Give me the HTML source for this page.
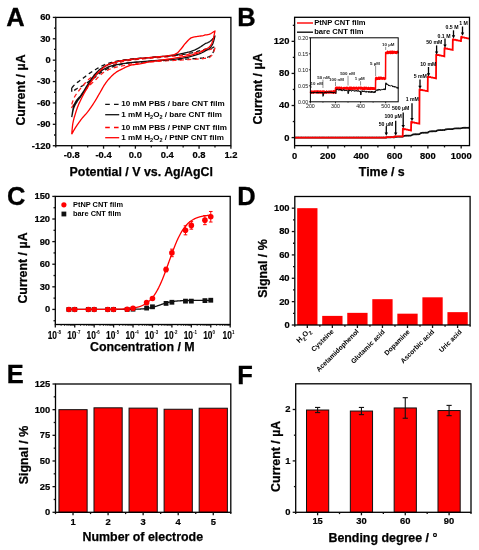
<!DOCTYPE html>
<html><head><meta charset="utf-8"><style>
html,body{margin:0;padding:0;background:#fff;}
svg{display:block;font-family:"Liberation Sans", sans-serif;will-change:transform;}
</style></head><body>
<svg width="479" height="550" viewBox="0 0 479 550">
<rect width="479" height="550" fill="#fff"/>
<text x="6.2" y="25.6" font-size="25.5" text-anchor="start" font-weight="bold" fill="#000" stroke="#000" stroke-width="0.3">A</text>
<polyline points="71.72,87.97 71.99,87.66 72.34,87.26 72.75,86.77 73.22,86.23 73.72,85.67 74.25,85.10 74.78,84.56 75.30,84.06 75.83,83.60 76.38,83.16 76.96,82.72 77.54,82.28 78.14,81.85 78.74,81.42 79.33,80.99 79.92,80.56 80.49,80.13 81.07,79.70 81.64,79.28 82.22,78.85 82.80,78.43 83.37,78.00 83.95,77.57 84.53,77.13 85.12,76.68 85.70,76.22 86.29,75.75 86.88,75.28 87.47,74.81 88.06,74.36 88.64,73.92 89.23,73.50 89.81,73.10 90.39,72.73 90.96,72.37 91.54,72.02 92.11,71.68 92.69,71.34 93.26,71.00 93.84,70.64 94.42,70.28 94.98,69.92 95.54,69.55 96.10,69.19 96.68,68.82 97.27,68.45 97.89,68.09 98.54,67.72 99.23,67.34 99.95,66.95 100.70,66.56 101.47,66.16 102.25,65.78 103.03,65.41 103.82,65.06 104.59,64.73 105.34,64.44 106.07,64.18 106.80,63.94 107.53,63.71 108.28,63.45 109.07,63.20 109.90,62.95 110.80,62.69 111.71,62.42 112.62,62.16 113.55,61.89 114.53,61.64 115.58,61.38 116.74,61.12 118.02,60.87 119.47,60.61 121.06,60.36 122.76,60.11 124.56,59.85 126.48,59.60 128.52,59.35 130.68,59.11 132.97,58.86 135.39,58.62 137.99,58.38 140.80,58.15 143.76,57.92 146.83,57.69 149.96,57.46 153.11,57.23 156.23,56.98 159.27,56.73 162.31,56.47 165.42,56.20 168.57,55.94 171.70,55.67 174.77,55.38 177.74,55.08 180.54,54.76 183.15,54.41 185.56,54.04 187.83,53.63 189.98,53.21 192.00,52.77 193.91,52.32 195.72,51.87 197.43,51.42 199.06,50.99 200.58,50.58 201.97,50.18 203.25,49.80 204.44,49.41 205.55,49.05 206.60,49.05 207.62,49.01 208.61,48.93 209.61,48.76 210.58,48.49 211.52,48.16 212.40,47.79 213.20,47.42 213.91,47.08 214.51,46.81 214.98,46.62 214.81,47.17 214.59,47.92 214.33,48.82 214.04,49.80 213.71,50.81 213.36,51.79 212.99,52.67 212.59,53.40 212.18,54.00 211.75,54.55 211.29,55.05 210.80,55.50 210.29,55.89 209.76,56.23 209.20,56.53 208.61,56.77 208.09,56.99 207.67,57.19 207.27,57.36 206.82,57.47 206.25,57.50 205.48,57.43 204.44,57.65 203.04,57.89 201.32,58.11 199.36,58.29 197.16,58.45 194.74,58.60 192.11,58.75 189.30,58.90 186.30,59.06 183.15,59.26 179.68,59.48 175.84,59.72 171.73,59.97 167.48,60.22 163.19,60.49 158.99,60.75 154.99,61.01 151.31,61.25 147.83,61.50 144.41,61.74 141.07,61.98 137.88,62.22 134.87,62.46 132.10,62.69 129.60,62.92 127.43,63.14 125.67,63.35 124.30,63.55 123.24,63.75 122.40,63.93 121.69,64.12 121.02,64.32 120.31,64.53 119.47,64.75 118.55,64.98 117.64,65.21 116.74,65.46 115.86,65.70 114.99,65.96 114.14,66.23 113.30,66.51 112.47,66.79 111.65,67.08 110.86,67.38 110.08,67.67 109.31,67.98 108.55,68.31 107.79,68.66 107.03,69.00 106.26,69.37 105.47,69.77 104.67,70.20 103.86,70.66 103.06,71.14 102.26,71.64 101.49,72.13 100.75,72.62 100.05,73.10 99.41,73.56 98.82,74.03 98.27,74.49 97.74,74.96 97.21,75.43 96.66,75.91 96.08,76.40 95.44,76.90 94.74,77.42 94.00,77.94 93.22,78.48 92.43,79.02 91.63,79.57 90.82,80.11 90.02,80.66 89.23,81.20 88.45,81.73 87.68,82.28 86.90,82.83 86.12,83.38 85.35,83.92 84.57,84.45 83.80,84.95 83.02,85.44 82.24,85.89 81.44,86.32 80.64,86.73 79.85,87.12 79.06,87.51 78.29,87.90 77.53,88.29 76.81,88.70 76.09,89.14 75.34,89.62 74.60,90.11 73.88,90.60 73.21,91.07 72.61,91.49 72.10,91.84 71.72,92.10 71.72,87.97" fill="none" stroke="#111" stroke-width="1.3" stroke-linejoin="round" stroke-dasharray="4.2,3.2"/>
<polyline points="71.72,104.36 71.93,103.78 72.19,103.01 72.51,102.08 72.87,101.05 73.26,99.98 73.66,98.92 74.08,97.92 74.50,97.03 74.93,96.23 75.38,95.48 75.85,94.75 76.34,94.05 76.84,93.36 77.35,92.67 77.87,91.98 78.40,91.26 78.94,90.54 79.49,89.81 80.05,89.08 80.62,88.35 81.20,87.62 81.79,86.89 82.40,86.16 83.02,85.44 83.66,84.70 84.32,83.95 84.99,83.20 85.68,82.45 86.37,81.71 87.06,81.00 87.75,80.31 88.43,79.65 89.10,79.05 89.77,78.48 90.43,77.94 91.09,77.42 91.76,76.91 92.44,76.40 93.13,75.88 93.84,75.35 94.58,74.78 95.34,74.20 96.11,73.60 96.90,73.00 97.69,72.41 98.48,71.85 99.27,71.31 100.05,70.82 100.83,70.36 101.60,69.94 102.38,69.54 103.16,69.17 103.93,68.82 104.71,68.47 105.48,68.13 106.26,67.80 107.03,67.47 107.79,67.16 108.55,66.83 109.31,66.51 110.08,66.20 110.86,65.88 111.65,65.56 112.47,65.23 113.25,64.88 113.95,64.53 114.65,64.17 115.36,63.81 116.16,63.46 117.08,63.10 118.17,62.74 119.47,62.39 120.98,62.05 122.64,61.69 124.44,61.34 126.38,60.99 128.45,60.65 130.64,60.32 132.96,59.99 135.39,59.69 137.99,59.40 140.80,59.13 143.76,58.87 146.83,58.62 149.96,58.37 153.11,58.12 156.23,57.86 159.27,57.58 162.31,57.30 165.42,57.02 168.57,56.73 171.70,56.44 174.77,56.13 177.74,55.81 180.54,55.48 183.15,55.12 185.56,54.74 187.83,54.34 189.98,53.91 192.00,53.47 193.91,53.03 195.72,52.58 197.43,52.14 199.06,51.70 200.58,51.28 201.97,50.88 203.25,50.48 204.44,50.08 205.55,49.71 206.60,49.71 207.62,49.69 208.61,49.64 209.61,49.53 210.58,49.35 211.52,49.11 212.40,48.86 213.20,48.60 213.91,48.37 214.51,48.17 214.98,48.05 214.81,48.53 214.59,49.19 214.33,49.98 214.04,50.85 213.71,51.75 213.36,52.62 212.99,53.43 212.59,54.11 212.18,54.71 211.75,55.30 211.29,55.85 210.80,56.37 210.29,56.83 209.76,57.24 209.20,57.58 208.61,57.84 208.09,58.04 207.67,58.21 207.27,58.33 206.82,58.39 206.25,58.35 205.48,58.23 204.44,58.40 203.04,58.60 201.27,58.80 199.17,58.98 196.81,59.14 194.24,59.29 191.53,59.44 188.74,59.59 185.92,59.74 183.15,59.90 180.35,60.06 177.46,60.23 174.48,60.39 171.46,60.55 168.40,60.72 165.33,60.90 162.28,61.09 159.27,61.29 156.20,61.50 153.02,61.73 149.79,61.96 146.58,62.20 143.47,62.45 140.52,62.71 137.80,62.98 135.39,63.25 133.30,63.54 131.47,63.85 129.86,64.18 128.42,64.51 127.11,64.84 125.87,65.16 124.67,65.46 123.45,65.73 122.27,65.96 121.20,66.16 120.20,66.34 119.26,66.51 118.35,66.68 117.45,66.87 116.53,67.08 115.57,67.33 114.58,67.60 113.56,67.90 112.54,68.21 111.52,68.53 110.51,68.88 109.53,69.25 108.59,69.64 107.69,70.07 106.85,70.47 106.06,70.88 105.30,71.31 104.56,71.76 103.84,72.24 103.12,72.76 102.40,73.31 101.64,73.90 100.88,74.56 100.10,75.27 99.33,76.02 98.55,76.81 97.77,77.61 96.99,78.41 96.21,79.20 95.44,79.96 94.66,80.70 93.88,81.41 93.11,82.11 92.33,82.82 91.56,83.53 90.78,84.27 90.00,85.03 89.23,85.83 88.45,86.67 87.68,87.56 86.90,88.47 86.12,89.40 85.35,90.35 84.57,91.29 83.80,92.22 83.02,93.13 82.24,94.03 81.44,94.92 80.64,95.81 79.85,96.69 79.06,97.58 78.29,98.46 77.53,99.35 76.81,100.24 76.09,101.19 75.34,102.22 74.60,103.27 73.88,104.32 73.21,105.30 72.61,106.19 72.10,106.94 71.72,107.50 71.72,104.36" fill="none" stroke="#ff1a1a" stroke-width="1.3" stroke-linejoin="round" stroke-dasharray="4.2,3.2"/>
<polyline points="71.72,117.19 71.86,116.29 72.05,115.05 72.27,113.57 72.52,111.95 72.79,110.29 73.09,108.67 73.39,107.21 73.71,106.00 74.03,105.02 74.37,104.17 74.72,103.44 75.10,102.77 75.49,102.15 75.90,101.55 76.34,100.92 76.81,100.24 77.32,99.54 77.86,98.87 78.43,98.19 79.02,97.52 79.62,96.83 80.23,96.12 80.84,95.37 81.43,94.58 82.01,93.74 82.60,92.85 83.19,91.92 83.78,90.97 84.37,90.01 84.95,89.04 85.54,88.08 86.12,87.14 86.70,86.21 87.28,85.27 87.86,84.32 88.43,83.37 89.01,82.44 89.58,81.52 90.16,80.63 90.74,79.77 91.32,78.95 91.91,78.14 92.50,77.35 93.09,76.59 93.68,75.84 94.27,75.12 94.85,74.43 95.44,73.76 96.01,73.13 96.56,72.52 97.10,71.95 97.65,71.40 98.21,70.86 98.79,70.34 99.40,69.83 100.05,69.32 100.75,68.81 101.49,68.30 102.26,67.80 103.06,67.32 103.86,66.85 104.67,66.40 105.47,65.98 106.26,65.59 107.00,65.24 107.70,64.92 108.38,64.61 109.07,64.32 109.79,64.04 110.58,63.76 111.46,63.47 112.47,63.16 113.55,62.82 114.67,62.47 115.85,62.11 117.10,61.75 118.47,61.39 119.97,61.04 121.62,60.70 123.45,60.38 125.49,60.07 127.71,59.78 130.09,59.50 132.60,59.22 135.21,58.96 137.89,58.69 140.61,58.42 143.35,58.15 146.20,57.89 149.23,57.63 152.36,57.38 155.54,57.13 158.68,56.88 161.72,56.62 164.60,56.34 167.23,56.05 169.63,55.75 171.86,55.44 173.95,55.12 175.93,54.79 177.82,54.45 179.63,54.09 181.40,53.72 183.15,53.34 184.84,52.96 186.45,52.58 187.98,52.19 189.46,51.79 190.90,51.36 192.30,50.90 193.70,50.38 195.08,49.80 196.49,49.13 197.89,48.39 199.29,47.59 200.66,46.75 201.97,45.90 203.22,45.06 204.38,44.25 205.43,43.49 206.37,43.17 207.20,42.85 207.94,42.53 208.61,42.20 209.24,41.85 209.83,41.47 210.41,41.06 211.00,40.61 211.60,40.08 212.20,39.46 212.79,38.78 213.34,38.09 213.85,37.42 214.30,36.81 214.69,36.30 214.98,35.93 214.81,36.59 214.59,37.48 214.33,38.56 214.04,39.73 213.71,40.95 213.36,42.13 212.99,43.22 212.59,44.13 212.18,44.91 211.75,45.63 211.29,46.29 210.80,46.90 210.29,47.46 209.76,47.99 209.20,48.47 208.61,48.93 208.04,49.35 207.48,49.74 206.92,50.09 206.33,50.40 205.67,50.67 204.92,51.11 204.06,51.64 203.04,52.18 201.88,52.74 200.60,53.31 199.21,53.87 197.72,54.43 196.15,54.97 194.52,55.49 192.83,55.99 191.10,56.44 189.36,56.86 187.59,57.25 185.78,57.61 183.89,57.95 181.91,58.27 179.82,58.58 177.58,58.87 175.19,59.15 172.58,59.41 169.78,59.65 166.82,59.86 163.75,60.06 160.61,60.26 157.46,60.46 154.35,60.67 151.31,60.90 148.26,61.14 145.13,61.38 141.96,61.64 138.81,61.89 135.73,62.16 132.77,62.43 129.99,62.71 127.43,63.00 125.08,63.31 122.86,63.63 120.78,63.96 118.85,64.30 117.05,64.65 115.38,64.99 113.86,65.32 112.47,65.65 111.27,65.96 110.30,66.26 109.50,66.54 108.82,66.82 108.20,67.12 107.61,67.43 106.98,67.74 106.26,68.08 105.47,68.46 104.67,68.86 103.86,69.28 103.06,69.72 102.26,70.18 101.49,70.65 100.75,71.12 100.05,71.60 99.40,72.08 98.79,72.55 98.21,73.03 97.65,73.53 97.10,74.04 96.56,74.58 96.01,75.15 95.44,75.76 94.85,76.40 94.27,77.08 93.68,77.79 93.09,78.52 92.50,79.28 91.91,80.05 91.32,80.83 90.74,81.63 90.16,82.44 89.58,83.27 89.01,84.12 88.43,84.98 87.86,85.86 87.28,86.74 86.70,87.62 86.12,88.50 85.54,89.38 84.95,90.29 84.37,91.19 83.78,92.11 83.19,93.01 82.60,93.91 82.01,94.79 81.43,95.65 80.84,96.49 80.23,97.31 79.62,98.11 79.02,98.91 78.43,99.69 77.86,100.47 77.32,101.25 76.81,102.03 76.34,102.78 75.90,103.50 75.49,104.21 75.10,104.91 74.72,105.64 74.37,106.41 74.03,107.23 73.71,108.14 73.39,109.19 73.09,110.40 72.79,111.71 72.52,113.04 72.27,114.33 72.05,115.49 71.86,116.47 71.72,117.19 71.72,117.19" fill="none" stroke="#111" stroke-width="1.3" stroke-linejoin="round"/>
<polyline points="71.72,134.30 71.80,133.41 71.90,132.22 72.03,130.79 72.17,129.22 72.32,127.58 72.50,125.94 72.70,124.40 72.91,123.02 73.15,121.78 73.41,120.61 73.69,119.47 73.99,118.37 74.30,117.28 74.62,116.20 74.96,115.11 75.30,114.00 75.64,112.88 75.99,111.77 76.34,110.66 76.71,109.55 77.10,108.43 77.50,107.31 77.94,106.17 78.40,105.02 78.91,103.84 79.45,102.63 80.02,101.41 80.62,100.17 81.22,98.95 81.83,97.74 82.43,96.56 83.02,95.42 83.60,94.31 84.17,93.24 84.75,92.18 85.32,91.15 85.90,90.13 86.48,89.13 87.06,88.14 87.64,87.17 88.22,86.20 88.81,85.24 89.39,84.30 89.98,83.37 90.57,82.46 91.16,81.56 91.75,80.69 92.33,79.85 92.91,79.02 93.49,78.21 94.07,77.42 94.64,76.65 95.22,75.90 95.79,75.18 96.37,74.48 96.95,73.81 97.53,73.17 98.12,72.57 98.71,71.99 99.30,71.44 99.89,70.90 100.47,70.38 101.06,69.86 101.64,69.34 102.21,68.82 102.77,68.31 103.31,67.80 103.86,67.30 104.42,66.81 105.00,66.35 105.61,65.92 106.26,65.52 106.93,65.15 107.59,64.82 108.26,64.48 108.97,64.17 109.72,63.86 110.54,63.56 111.45,63.26 112.47,62.94 113.55,62.62 114.67,62.29 115.85,61.96 117.10,61.64 118.47,61.31 119.97,61.00 121.62,60.68 123.45,60.38 125.51,60.08 127.80,59.79 130.26,59.50 132.84,59.22 135.50,58.95 138.17,58.68 140.80,58.41 143.35,58.15 145.89,57.90 148.51,57.67 151.16,57.44 153.80,57.21 156.37,56.99 158.83,56.76 161.14,56.53 163.25,56.28 165.16,56.05 166.94,55.84 168.59,55.63 170.11,55.41 171.53,55.18 172.84,54.90 174.05,54.56 175.19,54.16 176.19,53.68 177.05,53.15 177.78,52.56 178.42,51.92 179.01,51.26 179.57,50.58 180.14,49.89 180.76,49.20 181.39,48.50 181.99,47.77 182.57,47.01 183.15,46.24 183.72,45.46 184.30,44.70 184.90,43.95 185.53,43.22 186.19,42.50 186.85,41.76 187.53,41.01 188.22,40.28 188.92,39.59 189.64,38.95 190.36,38.38 191.10,37.91 191.86,37.54 192.64,37.27 193.43,37.07 194.24,36.93 195.05,36.81 195.86,36.71 196.67,36.61 197.47,36.47 198.27,36.33 199.08,36.22 199.89,36.11 200.71,36.01 201.51,35.90 202.30,35.77 203.08,35.60 203.84,35.39 204.57,35.14 205.29,34.88 205.99,34.82 206.67,34.80 207.36,34.73 208.04,34.63 208.72,34.48 209.41,34.27 210.14,33.96 210.93,33.55 211.74,33.06 212.54,32.55 213.30,32.05 213.98,31.59 214.55,31.21 214.98,30.94 214.81,31.77 214.59,32.90 214.33,34.24 214.04,35.72 213.71,37.25 213.36,38.75 212.99,40.12 212.59,41.28 212.20,42.28 211.80,43.21 211.39,44.08 210.95,44.89 210.47,45.63 209.93,46.31 209.31,46.94 208.61,47.50 207.85,48.01 207.04,48.47 206.17,48.88 205.23,49.32 204.22,50.02 203.13,50.69 201.94,51.34 200.66,51.97 199.27,52.56 197.81,53.11 196.27,53.63 194.64,54.12 192.91,54.59 191.09,55.05 189.16,55.51 187.12,55.96 184.92,56.41 182.50,56.86 179.95,57.29 177.33,57.71 174.68,58.12 172.07,58.52 169.57,58.90 167.23,59.26 165.02,59.60 162.86,59.92 160.77,60.21 158.74,60.50 156.77,60.78 154.88,61.05 153.05,61.33 151.31,61.61 149.66,61.90 148.12,62.19 146.66,62.48 145.27,62.76 143.92,63.05 142.59,63.32 141.27,63.59 139.93,63.84 138.58,64.06 137.25,64.24 135.94,64.41 134.65,64.57 133.37,64.75 132.10,64.96 130.84,65.23 129.58,65.58 128.30,66.03 126.98,66.57 125.66,67.18 124.35,67.81 123.09,68.46 121.90,69.08 120.82,69.65 119.87,70.14 119.09,70.53 118.46,70.84 117.95,71.10 117.50,71.33 117.09,71.57 116.65,71.86 116.16,72.21 115.57,72.67 114.88,73.23 114.12,73.87 113.32,74.57 112.50,75.32 111.67,76.09 110.86,76.88 110.09,77.68 109.36,78.45 108.70,79.20 108.08,79.93 107.49,80.67 106.92,81.38 106.36,82.13 105.79,82.92 105.20,83.77 104.59,84.69 103.95,85.70 103.30,86.78 102.63,87.92 101.96,89.11 101.29,90.32 100.61,91.53 99.93,92.73 99.26,93.89 98.59,95.04 97.93,96.18 97.27,97.33 96.61,98.47 95.94,99.61 95.26,100.74 94.56,101.87 93.84,103.00 93.11,104.14 92.35,105.28 91.57,106.43 90.79,107.57 90.00,108.69 89.21,109.79 88.42,110.87 87.64,111.90 86.86,112.88 86.08,113.80 85.30,114.68 84.53,115.55 83.75,116.41 82.97,117.29 82.20,118.20 81.43,119.17 80.64,120.21 79.83,121.31 79.01,122.44 78.20,123.59 77.41,124.74 76.65,125.85 75.94,126.91 75.30,127.90 74.71,128.85 74.14,129.81 73.61,130.75 73.13,131.64 72.69,132.47 72.30,133.20 71.98,133.82 71.72,134.30 71.72,134.30" fill="none" stroke="#ff0000" stroke-width="1.3" stroke-linejoin="round"/>
<rect x="55.8" y="17.4" width="175.1" height="128.3" fill="none" stroke="#000" stroke-width="1.3"/>
<line x1="52.8" y1="145.7" x2="55.8" y2="145.7" stroke="#111" stroke-width="1.3" stroke-linecap="butt"/>
<text x="50.6" y="148.63" font-size="9.4" text-anchor="end" font-weight="bold" fill="#000" stroke="#000" stroke-width="0.2">-120</text>
<line x1="52.8" y1="124.32" x2="55.8" y2="124.32" stroke="#111" stroke-width="1.3" stroke-linecap="butt"/>
<text x="50.6" y="127.25" font-size="9.4" text-anchor="end" font-weight="bold" fill="#000" stroke="#000" stroke-width="0.2">-90</text>
<line x1="52.8" y1="102.93" x2="55.8" y2="102.93" stroke="#111" stroke-width="1.3" stroke-linecap="butt"/>
<text x="50.6" y="105.87" font-size="9.4" text-anchor="end" font-weight="bold" fill="#000" stroke="#000" stroke-width="0.2">-60</text>
<line x1="52.8" y1="81.55" x2="55.8" y2="81.55" stroke="#111" stroke-width="1.3" stroke-linecap="butt"/>
<text x="50.6" y="84.48" font-size="9.4" text-anchor="end" font-weight="bold" fill="#000" stroke="#000" stroke-width="0.2">-30</text>
<line x1="52.8" y1="60.17" x2="55.8" y2="60.17" stroke="#111" stroke-width="1.3" stroke-linecap="butt"/>
<text x="50.6" y="63.1" font-size="9.4" text-anchor="end" font-weight="bold" fill="#000" stroke="#000" stroke-width="0.2">0</text>
<line x1="52.8" y1="38.78" x2="55.8" y2="38.78" stroke="#111" stroke-width="1.3" stroke-linecap="butt"/>
<text x="50.6" y="41.72" font-size="9.4" text-anchor="end" font-weight="bold" fill="#000" stroke="#000" stroke-width="0.2">30</text>
<line x1="52.8" y1="17.4" x2="55.8" y2="17.4" stroke="#111" stroke-width="1.3" stroke-linecap="butt"/>
<text x="50.6" y="20.33" font-size="9.4" text-anchor="end" font-weight="bold" fill="#000" stroke="#000" stroke-width="0.2">60</text>
<line x1="54" y1="135.01" x2="55.8" y2="135.01" stroke="#111" stroke-width="1.3" stroke-linecap="butt"/>
<line x1="54" y1="113.62" x2="55.8" y2="113.62" stroke="#111" stroke-width="1.3" stroke-linecap="butt"/>
<line x1="54" y1="92.24" x2="55.8" y2="92.24" stroke="#111" stroke-width="1.3" stroke-linecap="butt"/>
<line x1="54" y1="70.86" x2="55.8" y2="70.86" stroke="#111" stroke-width="1.3" stroke-linecap="butt"/>
<line x1="54" y1="49.47" x2="55.8" y2="49.47" stroke="#111" stroke-width="1.3" stroke-linecap="butt"/>
<line x1="54" y1="28.09" x2="55.8" y2="28.09" stroke="#111" stroke-width="1.3" stroke-linecap="butt"/>
<line x1="71.72" y1="145.7" x2="71.72" y2="148.7" stroke="#111" stroke-width="1.3" stroke-linecap="butt"/>
<text x="71.72" y="158.23" font-size="9.4" text-anchor="middle" font-weight="bold" fill="#000" stroke="#000" stroke-width="0.2">-0.8</text>
<line x1="103.55" y1="145.7" x2="103.55" y2="148.7" stroke="#111" stroke-width="1.3" stroke-linecap="butt"/>
<text x="103.55" y="158.23" font-size="9.4" text-anchor="middle" font-weight="bold" fill="#000" stroke="#000" stroke-width="0.2">-0.4</text>
<line x1="135.39" y1="145.7" x2="135.39" y2="148.7" stroke="#111" stroke-width="1.3" stroke-linecap="butt"/>
<text x="135.39" y="158.23" font-size="9.4" text-anchor="middle" font-weight="bold" fill="#000" stroke="#000" stroke-width="0.2">0.0</text>
<line x1="167.23" y1="145.7" x2="167.23" y2="148.7" stroke="#111" stroke-width="1.3" stroke-linecap="butt"/>
<text x="167.23" y="158.23" font-size="9.4" text-anchor="middle" font-weight="bold" fill="#000" stroke="#000" stroke-width="0.2">0.4</text>
<line x1="199.06" y1="145.7" x2="199.06" y2="148.7" stroke="#111" stroke-width="1.3" stroke-linecap="butt"/>
<text x="199.06" y="158.23" font-size="9.4" text-anchor="middle" font-weight="bold" fill="#000" stroke="#000" stroke-width="0.2">0.8</text>
<line x1="230.9" y1="145.7" x2="230.9" y2="148.7" stroke="#111" stroke-width="1.3" stroke-linecap="butt"/>
<text x="230.9" y="158.23" font-size="9.4" text-anchor="middle" font-weight="bold" fill="#000" stroke="#000" stroke-width="0.2">1.2</text>
<line x1="55.8" y1="145.7" x2="55.8" y2="147.5" stroke="#111" stroke-width="1.3" stroke-linecap="butt"/>
<line x1="87.64" y1="145.7" x2="87.64" y2="147.5" stroke="#111" stroke-width="1.3" stroke-linecap="butt"/>
<line x1="119.47" y1="145.7" x2="119.47" y2="147.5" stroke="#111" stroke-width="1.3" stroke-linecap="butt"/>
<line x1="151.31" y1="145.7" x2="151.31" y2="147.5" stroke="#111" stroke-width="1.3" stroke-linecap="butt"/>
<line x1="183.15" y1="145.7" x2="183.15" y2="147.5" stroke="#111" stroke-width="1.3" stroke-linecap="butt"/>
<line x1="214.98" y1="145.7" x2="214.98" y2="147.5" stroke="#111" stroke-width="1.3" stroke-linecap="butt"/>
<text x="141.3" y="176.1" font-size="12.4" text-anchor="middle" font-weight="bold" fill="#000" stroke="#000" stroke-width="0.25">Potential / V vs. Ag/AgCl</text>
<text transform="translate(24.5,90) rotate(-90)" font-size="12.4" text-anchor="middle" font-weight="bold" stroke="#000" stroke-width="0.25">Current / µA</text>
<line x1="105.2" y1="104.3" x2="119.2" y2="104.3" stroke="#111" stroke-width="1.3" stroke-linecap="butt" stroke-dasharray="4.6,4.2"/>
<text x="121.3" y="106.19" font-size="8.1" text-anchor="start" font-weight="bold" fill="#000">10 mM PBS / bare CNT film</text>
<line x1="105.2" y1="114.7" x2="119.2" y2="114.7" stroke="#111" stroke-width="1.3" stroke-linecap="butt"/>
<text x="121.3" y="117.39" font-size="8.1" text-anchor="start" font-weight="bold" fill="#000">1 mM H<tspan font-size="5.5" dy="2">2</tspan><tspan dy="-2">O</tspan><tspan font-size="5.5" dy="2">2</tspan><tspan dy="-2"> / bare CNT film</tspan></text>
<line x1="105.2" y1="127.5" x2="119.2" y2="127.5" stroke="#ff0000" stroke-width="1.3" stroke-linecap="butt" stroke-dasharray="4.6,4.2"/>
<text x="121.3" y="129.99" font-size="8.1" text-anchor="start" font-weight="bold" fill="#000">10 mM PBS / PtNP CNT film</text>
<line x1="105.2" y1="137.7" x2="119.2" y2="137.7" stroke="#ff0000" stroke-width="1.3" stroke-linecap="butt"/>
<text x="121.3" y="140.39" font-size="8.1" text-anchor="start" font-weight="bold" fill="#000">1 mM H<tspan font-size="5.5" dy="2">2</tspan><tspan dy="-2">O</tspan><tspan font-size="5.5" dy="2">2</tspan><tspan dy="-2"> / PtNP CNT film</tspan></text>
<text x="237.2" y="25.6" font-size="25.5" text-anchor="start" font-weight="bold" fill="#000" stroke="#000" stroke-width="0.3">B</text>
<polyline points="294.60,137.58 294.85,137.42 295.10,137.51 295.35,137.71 295.60,137.71 295.85,137.51 296.10,137.43 296.35,137.59 296.60,137.74 296.85,137.65 297.10,137.45 297.35,137.46 297.60,137.66 297.85,137.74 298.10,137.57 298.35,137.42 298.60,137.52 298.85,137.71 299.10,137.70 299.35,137.50 299.60,137.43 299.85,137.59 300.10,137.74 300.35,137.64 300.60,137.45 300.85,137.47 301.10,137.66 301.35,137.73 301.60,137.57 301.85,137.42 302.10,137.53 302.35,137.72 302.60,137.69 302.85,137.50 303.10,137.43 303.35,137.60 303.59,137.74 303.84,137.63 304.09,137.44 304.34,137.47 304.59,137.67 304.84,137.73 305.09,137.56 305.34,137.42 305.59,137.54 305.84,137.72 306.09,137.69 306.34,137.49 306.59,137.43 306.84,137.61 307.09,137.74 307.34,137.62 307.59,137.44 307.84,137.48 308.09,137.68 308.34,137.73 308.59,137.55 308.84,137.42 309.09,137.54 309.34,137.72 309.59,137.68 309.84,137.48 310.09,137.44 310.34,137.62 310.59,137.74 310.84,137.62 311.09,137.44 311.34,137.48 311.59,137.68 311.84,137.72 312.09,137.54 312.34,137.42 312.59,137.55 312.84,137.73 313.09,137.68 313.34,137.48 313.59,137.44 313.84,137.63 314.09,137.74 314.34,137.61 314.59,137.43 314.84,137.49 315.09,137.69 315.34,137.72 315.59,137.53 315.84,137.42 316.09,137.56 316.34,137.73 316.59,137.67 316.84,137.47 317.09,137.44 317.34,137.63 317.59,137.74 317.84,137.60 318.09,137.43 318.34,137.50 318.59,137.70 318.84,137.72 319.09,137.53 319.34,137.42 319.59,137.57 319.84,137.73 320.09,137.66 320.34,137.46 320.59,137.45 320.84,137.64 321.08,137.74 321.33,137.59 321.58,137.43 321.83,137.50 322.08,137.70 322.33,137.71 322.58,137.52 322.83,137.42 323.08,137.58 323.33,137.74 323.58,137.66 323.83,137.46 324.08,137.45 324.33,137.65 324.58,137.74 324.83,137.58 325.08,137.43 325.33,137.51 325.58,137.71 325.83,137.71 326.08,137.51 326.33,137.43 326.58,137.58 326.83,137.74 327.08,137.65 327.33,137.45 327.58,137.46 327.83,137.66 328.08,137.74 328.33,137.58 328.58,137.42 328.83,137.52 329.08,137.71 329.33,137.70 329.58,137.50 329.83,137.43 330.08,137.59 330.33,137.74 330.58,137.64 330.83,137.45 331.08,137.46 331.33,137.66 331.58,137.73 331.83,137.57 332.08,137.42 332.33,137.53 332.58,137.72 332.83,137.70 333.08,137.50 333.33,137.43 333.58,137.60 333.83,137.74 334.08,137.63 334.33,137.44 334.58,137.47 334.83,137.67 335.08,137.73 335.33,137.56 335.58,137.42 335.83,137.53 336.08,137.72 336.33,137.69 336.58,137.49 336.83,137.43 337.08,137.61 337.33,137.74 337.58,137.63 337.83,137.44 338.08,137.48 338.33,137.68 338.57,137.73 338.82,137.55 339.07,137.42 339.32,137.54 339.57,137.72 339.82,137.68 340.07,137.48 340.32,137.44 340.57,137.62 340.82,137.74 341.07,137.62 341.32,137.44 341.57,137.48 341.82,137.68 342.07,137.72 342.32,137.54 342.57,137.42 342.82,137.55 343.07,137.73 343.32,137.68 343.57,137.48 343.82,137.44 344.07,137.62 344.32,137.74 344.57,137.61 344.82,137.43 345.07,137.49 345.32,137.69 345.57,137.72 345.82,137.54 346.07,137.42 346.32,137.56 346.57,137.73 346.82,137.67 347.07,137.47 347.32,137.44 347.57,137.63 347.82,137.74 348.07,137.60 348.32,137.43 348.57,137.49 348.82,137.69 349.07,137.72 349.32,137.53 349.57,137.42 349.82,137.57 350.07,137.73 350.32,137.66 350.57,137.47 350.82,137.45 351.07,137.64 351.32,137.74 351.57,137.59 351.82,137.43 352.07,137.50 352.32,137.70 352.57,137.71 352.82,137.52 353.07,137.42 353.32,137.57 353.57,137.74 353.82,137.66 354.07,137.46 354.32,137.45 354.57,137.65 354.82,137.74 355.07,137.59 355.32,137.43 355.57,137.51 355.81,137.71 356.06,137.71 356.31,137.51 356.56,137.42 356.81,137.58 357.06,137.74 357.31,137.65 357.56,137.45 357.81,137.46 358.06,137.65 358.31,137.74 358.56,137.58 358.81,137.42 359.06,137.52 359.31,137.71 359.56,137.70 359.81,137.51 360.06,137.43 360.31,137.59 360.56,137.74 360.81,137.64 361.06,137.45 361.31,137.46 361.56,137.66 361.81,137.73 362.06,137.57 362.31,137.42 362.56,137.52 362.81,137.71 363.06,137.70 363.31,137.50 363.56,137.43 363.81,137.60 364.06,137.74 364.31,137.63 364.56,137.45 364.81,137.47 365.06,137.67 365.31,137.73 365.56,137.56 365.81,137.42 366.06,137.53 366.31,137.72 366.56,137.69 366.81,137.49 367.06,137.43 367.31,137.61 367.56,137.74 367.81,137.63 368.06,137.44 368.31,137.47 368.56,137.67 368.81,137.73 369.06,137.55 369.31,137.42 369.56,137.54 369.81,137.72 370.06,137.69 370.31,137.49 370.56,137.43 370.81,137.61 371.06,137.74 371.31,137.62 371.56,137.44 371.81,137.48 372.06,137.68 372.31,137.73 372.56,137.55 372.81,137.42 373.06,137.55 373.31,137.73 373.55,137.68 373.80,137.48 374.05,137.44 374.30,137.62 374.55,137.74 374.80,137.61 375.05,137.43 375.30,137.49 375.55,137.69 375.80,137.72 376.05,137.54 376.30,137.42 376.55,137.55 376.80,137.73 377.05,137.67 377.30,137.47 377.55,137.44 377.80,137.63 378.05,137.74 378.30,137.60 378.55,137.43 378.80,137.49 379.05,137.69 379.30,137.72 379.55,137.53 379.80,137.42 380.05,137.56 380.30,137.73 380.55,137.67 380.80,137.47 381.05,137.45 381.30,137.64 381.55,137.74 381.80,137.60 382.05,137.43 382.30,137.50 382.55,137.70 382.80,137.71 383.05,137.52 383.30,137.42 383.55,137.57 383.80,137.74 384.05,137.66 384.30,137.46 384.55,137.45 384.80,137.64 385.05,137.74 385.30,137.59 385.55,137.43 385.80,137.51 386.05,137.70 386.30,137.69 386.55,137.43 386.80,137.29 387.05,137.41 387.30,137.54 387.55,137.43 387.80,137.22 388.05,137.21 388.30,137.39 388.55,137.47 388.80,137.31 389.05,137.15 389.30,137.23 389.55,137.42 389.80,137.42 390.05,137.22 390.30,137.14 390.55,137.30 390.80,137.45 391.04,137.35 391.29,137.16 391.54,137.17 391.79,137.36 392.04,137.44 392.29,137.28 392.54,137.13 392.79,137.23 393.04,137.42 393.29,137.40 393.54,137.21 393.79,137.13 394.04,137.30 394.29,137.45 394.54,137.34 394.79,137.02 395.04,136.94 395.29,137.06 395.54,137.06 395.79,136.85 396.04,136.67 396.29,136.75 396.54,136.91 396.79,136.87 397.04,136.66 397.29,136.58 397.54,136.75 397.79,136.88 398.04,136.76 398.29,136.57 398.54,136.60 398.79,136.80 399.04,136.85 399.29,136.68 399.54,136.54 399.79,136.66 400.04,136.84 400.29,136.80 400.54,136.60 400.79,136.55 401.04,136.73 401.29,136.86 401.54,136.74 401.79,136.55 402.04,136.59 402.29,136.79 402.54,136.84 402.79,136.66 403.04,136.38 403.29,136.31 403.54,136.34 403.79,136.18 404.04,135.88 404.29,135.77 404.54,135.90 404.79,135.98 405.04,135.81 405.29,135.61 405.54,135.64 405.79,135.82 406.04,135.85 406.29,135.66 406.54,135.53 406.79,135.66 407.04,135.83 407.29,135.77 407.54,135.57 407.79,135.53 408.04,135.71 408.29,135.83 408.53,135.69 408.78,135.52 409.03,135.58 409.28,135.77 409.53,135.80 409.78,135.61 410.03,135.50 410.28,135.64 410.53,135.81 410.78,135.75 411.03,135.55 411.28,135.42 411.53,135.32 411.78,135.20 412.03,134.89 412.28,134.58 412.53,134.55 412.78,134.67 413.03,134.62 413.28,134.38 413.53,134.24 413.78,134.36 414.03,134.50 414.28,134.41 414.53,134.19 414.78,134.17 415.03,134.35 415.28,134.44 415.53,134.29 415.78,134.12 416.03,134.20 416.28,134.39 416.53,134.40 416.78,134.20 417.03,134.11 417.28,134.26 417.53,134.42 417.78,134.34 418.03,134.14 418.28,134.14 418.53,134.33 418.78,134.42 419.03,134.26 419.28,134.11 419.53,134.19 419.78,134.05 420.03,133.78 420.28,133.37 420.53,133.13 420.78,133.16 421.03,133.22 421.28,133.05 421.53,132.79 421.78,132.75 422.03,132.92 422.28,132.97 422.53,132.78 422.78,132.61 423.03,132.70 423.28,132.88 423.53,132.86 423.78,132.66 424.03,132.58 424.28,132.74 424.53,132.88 424.78,132.78 425.03,132.59 425.28,132.60 425.53,132.80 425.77,132.87 426.02,132.70 426.27,132.55 426.52,132.66 426.77,132.85 427.02,132.83 427.27,132.63 427.52,132.56 427.77,132.73 428.02,132.65 428.27,132.26 428.52,131.86 428.77,131.72 429.02,131.79 429.27,131.74 429.52,131.49 429.77,131.29 430.02,131.36 430.27,131.51 430.52,131.45 430.77,131.22 431.02,131.15 431.27,131.31 431.52,131.43 431.77,131.31 432.02,131.12 432.27,131.15 432.52,131.35 432.77,131.39 433.02,131.21 433.27,131.08 433.52,131.20 433.77,131.38 434.02,131.34 434.27,131.14 434.52,131.09 434.77,131.27 435.02,131.40 435.27,131.27 435.52,131.09 435.77,131.14 436.02,131.34 436.27,131.29 436.52,130.86 436.77,130.56 437.02,130.54 437.27,130.60 437.52,130.46 437.77,130.19 438.02,130.10 438.27,130.25 438.52,130.33 438.77,130.17 439.02,129.98 439.27,130.02 439.52,130.21 439.77,130.23 440.02,130.03 440.27,129.92 440.52,130.05 440.77,130.22 441.02,130.15 441.27,129.95 441.52,129.93 441.77,130.11 442.02,130.22 442.27,130.08 442.52,129.91 442.77,129.97 443.02,130.17 443.26,130.19 443.51,130.00 443.76,129.90 444.01,130.04 444.26,130.21 444.51,130.14 444.76,129.73 445.01,129.55 445.26,129.61 445.51,129.61 445.76,129.38 446.01,129.16 446.26,129.19 446.51,129.35 446.76,129.33 447.01,129.11 447.26,129.00 447.51,129.14 447.76,129.29 448.01,129.20 448.26,129.00 448.51,128.99 448.76,129.18 449.01,129.27 449.26,129.11 449.51,128.95 449.76,129.03 450.01,129.23 450.26,129.23 450.51,129.03 450.76,128.94 451.01,129.10 451.26,129.26 451.51,129.17 451.76,128.97 452.01,128.98 452.26,129.17 452.51,129.25 452.76,129.09 453.01,128.83 453.26,128.78 453.51,128.87 453.76,128.77 454.01,128.51 454.26,128.38 454.51,128.51 454.76,128.63 455.01,128.50 455.26,128.29 455.51,128.29 455.76,128.48 456.01,128.54 456.26,128.37 456.51,128.22 456.76,128.32 457.01,128.51 457.26,128.48 457.51,128.28 457.76,128.21 458.01,128.38 458.26,128.52 458.51,128.41 458.76,128.22 459.01,128.25 459.26,128.45 459.51,128.51 459.76,128.34 460.01,128.20 460.26,128.31 460.51,128.50 460.75,128.47 461.00,128.27 461.25,128.16 461.50,128.22 461.75,128.26 462.00,128.07 462.25,127.83 462.50,127.82 462.75,127.99 463.00,128.01 463.25,127.81 463.50,127.67 463.75,127.77 464.00,127.95 464.25,127.90 464.50,127.69 464.75,127.64 465.00,127.82 465.25,127.94 465.50,127.81 465.75,127.63 466.00,127.67 466.25,127.87 466.50,127.92 466.75,127.73 467.00,127.61 467.25,127.74 467.50,127.92 467.75,127.87 468.00,127.67 468.25,127.63 468.50,127.81 468.75,127.93 469.00,127.80 469.25,127.62 469.50,127.68" fill="none" stroke="#111" stroke-width="1.6" stroke-linejoin="round"/>
<polyline points="294.60,137.58 294.77,137.58 294.93,137.58 295.10,137.58 295.27,137.58 295.43,137.58 295.60,137.58 295.77,137.58 295.93,137.58 296.10,137.58 296.27,137.58 296.43,137.58 296.60,137.58 296.77,137.58 296.93,137.58 297.10,137.58 297.27,137.58 297.43,137.58 297.60,137.58 297.76,137.58 297.93,137.58 298.10,137.58 298.26,137.58 298.43,137.58 298.60,137.58 298.76,137.58 298.93,137.58 299.10,137.58 299.26,137.58 299.43,137.58 299.60,137.58 299.76,137.58 299.93,137.58 300.10,137.58 300.26,137.58 300.43,137.58 300.60,137.58 300.76,137.58 300.93,137.58 301.10,137.58 301.26,137.58 301.43,137.58 301.60,137.58 301.76,137.58 301.93,137.58 302.10,137.58 302.26,137.58 302.43,137.58 302.60,137.58 302.76,137.58 302.93,137.58 303.10,137.58 303.26,137.58 303.43,137.58 303.59,137.58 303.76,137.58 303.93,137.58 304.09,137.58 304.26,137.58 304.43,137.58 304.59,137.58 304.76,137.58 304.93,137.58 305.09,137.58 305.26,137.58 305.43,137.58 305.59,137.58 305.76,137.58 305.93,137.58 306.09,137.58 306.26,137.58 306.43,137.58 306.59,137.58 306.76,137.58 306.93,137.58 307.09,137.58 307.26,137.58 307.43,137.58 307.59,137.58 307.76,137.58 307.93,137.58 308.09,137.58 308.26,137.58 308.43,137.58 308.59,137.58 308.76,137.58 308.93,137.58 309.09,137.58 309.26,137.58 309.42,137.58 309.59,137.58 309.76,137.58 309.92,137.58 310.09,137.58 310.26,137.58 310.42,137.58 310.59,137.58 310.76,137.58 310.92,137.58 311.09,137.58 311.26,137.58 311.42,137.58 311.59,137.58 311.76,137.58 311.92,137.58 312.09,137.58 312.26,137.58 312.42,137.58 312.59,137.58 312.76,137.58 312.92,137.58 313.09,137.58 313.26,137.58 313.42,137.58 313.59,137.58 313.76,137.58 313.92,137.58 314.09,137.58 314.26,137.58 314.42,137.58 314.59,137.58 314.76,137.58 314.92,137.58 315.09,137.58 315.25,137.58 315.42,137.58 315.59,137.58 315.75,137.58 315.92,137.58 316.09,137.58 316.25,137.58 316.42,137.58 316.59,137.58 316.75,137.58 316.92,137.58 317.09,137.58 317.25,137.58 317.42,137.58 317.59,137.58 317.75,137.58 317.92,137.58 318.09,137.58 318.25,137.58 318.42,137.58 318.59,137.58 318.75,137.58 318.92,137.58 319.09,137.58 319.25,137.58 319.42,137.58 319.59,137.58 319.75,137.58 319.92,137.58 320.09,137.58 320.25,137.58 320.42,137.58 320.59,137.58 320.75,137.58 320.92,137.58 321.08,137.58 321.25,137.58 321.42,137.58 321.58,137.58 321.75,137.58 321.92,137.58 322.08,137.58 322.25,137.58 322.42,137.58 322.58,137.58 322.75,137.58 322.92,137.58 323.08,137.58 323.25,137.58 323.42,137.58 323.58,137.58 323.75,137.58 323.92,137.58 324.08,137.58 324.25,137.58 324.42,137.58 324.58,137.58 324.75,137.58 324.92,137.58 325.08,137.58 325.25,137.58 325.42,137.58 325.58,137.58 325.75,137.58 325.92,137.58 326.08,137.58 326.25,137.58 326.42,137.58 326.58,137.58 326.75,137.58 326.91,137.58 327.08,137.58 327.25,137.58 327.41,137.58 327.58,137.58 327.75,137.58 327.91,137.58 328.08,137.58 328.25,137.58 328.41,137.58 328.58,137.58 328.75,137.58 328.91,137.58 329.08,137.58 329.25,137.58 329.41,137.58 329.58,137.58 329.75,137.58 329.91,137.58 330.08,137.58 330.25,137.58 330.41,137.58 330.58,137.58 330.75,137.58 330.91,137.58 331.08,137.58 331.25,137.58 331.41,137.58 331.58,137.58 331.75,137.58 331.91,137.58 332.08,137.58 332.25,137.58 332.41,137.58 332.58,137.58 332.74,137.58 332.91,137.58 333.08,137.58 333.24,137.58 333.41,137.58 333.58,137.58 333.74,137.58 333.91,137.58 334.08,137.58 334.24,137.58 334.41,137.58 334.58,137.58 334.74,137.58 334.91,137.58 335.08,137.58 335.24,137.58 335.41,137.58 335.58,137.58 335.74,137.58 335.91,137.58 336.08,137.58 336.24,137.58 336.41,137.58 336.58,137.58 336.74,137.58 336.91,137.58 337.08,137.58 337.24,137.58 337.41,137.58 337.58,137.58 337.74,137.58 337.91,137.58 338.08,137.58 338.24,137.58 338.41,137.58 338.57,137.58 338.74,137.58 338.91,137.58 339.07,137.58 339.24,137.58 339.41,137.58 339.57,137.58 339.74,137.58 339.91,137.58 340.07,137.58 340.24,137.58 340.41,137.58 340.57,137.58 340.74,137.58 340.91,137.58 341.07,137.58 341.24,137.58 341.41,137.58 341.57,137.58 341.74,137.58 341.91,137.58 342.07,137.58 342.24,137.58 342.41,137.58 342.57,137.58 342.74,137.58 342.91,137.58 343.07,137.58 343.24,137.58 343.41,137.58 343.57,137.58 343.74,137.58 343.91,137.58 344.07,137.58 344.24,137.58 344.40,137.58 344.57,137.58 344.74,137.58 344.90,137.58 345.07,137.58 345.24,137.58 345.40,137.58 345.57,137.58 345.74,137.58 345.90,137.58 346.07,137.58 346.24,137.58 346.40,137.58 346.57,137.58 346.74,137.58 346.90,137.58 347.07,137.58 347.24,137.58 347.40,137.58 347.57,137.58 347.74,137.58 347.90,137.58 348.07,137.58 348.24,137.58 348.40,137.58 348.57,137.58 348.74,137.58 348.90,137.58 349.07,137.58 349.24,137.58 349.40,137.58 349.57,137.58 349.74,137.58 349.90,137.58 350.07,137.58 350.23,137.58 350.40,137.58 350.57,137.58 350.73,137.58 350.90,137.58 351.07,137.58 351.23,137.58 351.40,137.58 351.57,137.58 351.73,137.58 351.90,137.58 352.07,137.58 352.23,137.58 352.40,137.58 352.57,137.58 352.73,137.58 352.90,137.58 353.07,137.58 353.23,137.58 353.40,137.58 353.57,137.58 353.73,137.58 353.90,137.58 354.07,137.58 354.23,137.58 354.40,137.58 354.57,137.58 354.73,137.58 354.90,137.58 355.07,137.58 355.23,137.58 355.40,137.58 355.57,137.58 355.73,137.58 355.90,137.58 356.06,137.58 356.23,137.58 356.40,137.58 356.56,137.58 356.73,137.58 356.90,137.58 357.06,137.58 357.23,137.58 357.40,137.58 357.56,137.58 357.73,137.58 357.90,137.58 358.06,137.58 358.23,137.58 358.40,137.58 358.56,137.58 358.73,137.58 358.90,137.58 359.06,137.58 359.23,137.58 359.40,137.58 359.56,137.58 359.73,137.58 359.90,137.58 360.06,137.58 360.23,137.58 360.40,137.58 360.56,137.58 360.73,137.58 360.90,137.58 361.06,137.58 361.23,137.58 361.40,137.58 361.56,137.58 361.73,137.58 361.89,137.58 362.06,137.58 362.23,137.58 362.39,137.58 362.56,137.58 362.73,137.58 362.89,137.58 363.06,137.58 363.23,137.58 363.39,137.58 363.56,137.58 363.73,137.58 363.89,137.58 364.06,137.58 364.23,137.58 364.39,137.58 364.56,137.58 364.73,137.58 364.89,137.58 365.06,137.58 365.23,137.58 365.39,137.58 365.56,137.58 365.73,137.58 365.89,137.58 366.06,137.58 366.23,137.58 366.39,137.58 366.56,137.58 366.73,137.58 366.89,137.58 367.06,137.58 367.23,137.58 367.39,137.58 367.56,137.58 367.72,137.58 367.89,137.58 368.06,137.58 368.22,137.58 368.39,137.58 368.56,137.58 368.72,137.58 368.89,137.58 369.06,137.58 369.22,137.58 369.39,137.58 369.56,137.58 369.72,137.58 369.89,137.58 370.06,137.58 370.22,137.58 370.39,137.58 370.56,137.58 370.72,137.58 370.89,137.58 371.06,137.58 371.22,137.58 371.39,137.58 371.56,137.58 371.72,137.58 371.89,137.58 372.06,137.58 372.22,137.58 372.39,137.58 372.56,137.58 372.72,137.58 372.89,137.58 373.06,137.58 373.22,137.58 373.39,137.58 373.55,137.58 373.72,137.58 373.89,137.58 374.05,137.58 374.22,137.58 374.39,137.58 374.55,137.58 374.72,137.58 374.89,137.58 375.05,137.58 375.22,137.58 375.39,137.58 375.55,137.58 375.72,137.58 375.89,137.58 376.05,137.58 376.22,137.58 376.39,137.58 376.55,137.58 376.72,137.58 376.89,137.58 377.05,137.58 377.22,137.58 377.39,137.58 377.55,137.58 377.72,137.58 377.89,137.58 378.05,137.58 378.22,137.58 378.39,137.58 378.55,137.58 378.72,137.58 378.89,137.58 379.05,137.58 379.22,137.58 379.38,137.58 379.55,137.58 379.72,137.58 379.88,137.58 380.05,137.58 380.22,137.58 380.38,137.58 380.55,137.58 380.72,137.58 380.88,137.58 381.05,137.58 381.22,137.58 381.38,137.58 381.55,137.58 381.72,137.58 381.88,137.58 382.05,137.58 382.22,137.58 382.38,137.58 382.55,137.58 382.72,137.58 382.88,137.58 383.05,137.58 383.22,137.58 383.38,137.58 383.55,137.58 383.72,137.58 383.88,137.58 384.05,137.58 384.22,137.58 384.38,137.58 384.55,137.58 384.72,137.58 384.88,137.58 385.05,137.58 385.21,137.58 385.38,137.58 385.55,137.58 385.71,137.58 385.88,137.58 386.05,137.58 386.21,137.10 386.38,137.10 386.55,137.10 386.71,137.10 386.88,137.10 387.05,137.10 387.21,137.10 387.38,137.10 387.55,137.10 387.71,137.10 387.88,137.10 388.05,137.10 388.21,137.10 388.38,137.10 388.55,137.10 388.71,137.10 388.88,137.10 389.05,137.10 389.21,137.10 389.38,137.10 389.55,137.10 389.71,137.10 389.88,137.10 390.05,137.10 390.21,137.10 390.38,137.10 390.55,137.10 390.71,137.10 390.88,137.10 391.04,137.10 391.21,137.10 391.38,137.10 391.54,137.10 391.71,137.10 391.88,137.10 392.04,137.10 392.21,137.10 392.38,137.10 392.54,137.10 392.71,137.10 392.88,137.10 393.04,137.10 393.21,137.10 393.38,137.10 393.54,137.10 393.71,137.10 393.88,137.10 394.04,137.10 394.21,137.10 394.38,137.10 394.54,136.46 394.71,136.46 394.88,136.46 395.04,136.46 395.21,136.46 395.38,136.46 395.54,136.46 395.71,136.46 395.88,136.46 396.04,136.46 396.21,136.46 396.38,136.46 396.54,136.46 396.71,136.46 396.87,136.46 397.04,136.46 397.21,136.46 397.37,136.46 397.54,136.46 397.71,136.46 397.87,136.46 398.04,136.46 398.21,136.46 398.37,136.46 398.54,136.46 398.71,136.46 398.87,136.46 399.04,136.46 399.21,136.46 399.37,136.46 399.54,136.46 399.71,136.46 399.87,136.46 400.04,136.46 400.21,136.46 400.37,136.46 400.54,136.46 400.71,136.46 400.87,136.46 401.04,136.46 401.21,136.46 401.37,136.46 401.54,136.46 401.71,136.46 401.87,136.46 402.04,136.46 402.21,136.46 402.37,136.46 402.54,136.46 402.70,136.46 402.87,128.76 403.04,128.61 403.20,128.53 403.37,128.52 403.54,128.60 403.70,128.75 403.87,128.93 404.04,129.11 404.20,129.25 404.37,129.33 404.54,129.35 404.70,129.31 404.87,129.25 405.04,129.17 405.20,129.12 405.37,129.11 405.54,129.15 405.70,129.22 405.87,129.33 406.04,129.44 406.20,129.55 406.37,129.62 406.54,129.67 406.70,129.68 406.87,129.67 407.04,129.65 407.20,129.63 407.37,129.63 407.54,129.65 407.70,129.70 407.87,129.76 408.04,129.84 408.20,129.91 408.37,129.98 408.53,130.03 408.70,130.06 408.87,130.08 409.03,130.09 409.20,130.09 409.37,130.10 409.53,130.12 409.70,130.16 409.87,130.20 410.03,130.26 410.20,130.31 410.37,130.37 410.53,130.42 410.70,130.46 410.87,130.49 411.03,130.51 411.20,121.94 411.37,121.80 411.53,121.71 411.70,121.71 411.87,121.79 412.03,121.93 412.20,122.11 412.37,122.29 412.53,122.43 412.70,122.51 412.87,122.53 413.03,122.50 413.20,122.43 413.37,122.36 413.53,122.31 413.70,122.30 413.87,122.33 414.03,122.41 414.20,122.51 414.36,122.63 414.53,122.73 414.70,122.81 414.86,122.85 415.03,122.87 415.20,122.86 415.36,122.83 415.53,122.82 415.70,122.81 415.86,122.83 416.03,122.88 416.20,122.94 416.36,123.02 416.53,123.10 416.70,123.16 416.86,123.21 417.03,123.25 417.20,123.26 417.36,123.27 417.53,123.28 417.70,123.29 417.86,123.31 418.03,123.34 418.20,123.39 418.36,123.44 418.53,123.50 418.70,123.55 418.86,123.60 419.03,123.64 419.20,123.67 419.36,123.69 419.53,89.47 419.70,89.32 419.86,89.23 420.03,89.23 420.19,89.31 420.36,89.46 420.53,89.64 420.69,89.81 420.86,89.95 421.03,90.04 421.19,90.05 421.36,90.02 421.53,89.95 421.69,89.88 421.86,89.83 422.03,89.82 422.19,89.86 422.36,89.93 422.53,90.04 422.69,90.15 422.86,90.25 423.03,90.33 423.19,90.38 423.36,90.39 423.53,90.38 423.69,90.36 423.86,90.34 424.03,90.34 424.19,90.36 424.36,90.40 424.53,90.47 424.69,90.54 424.86,90.62 425.03,90.69 425.19,90.74 425.36,90.77 425.53,90.79 425.69,90.80 425.86,90.80 426.02,90.81 426.19,90.83 426.36,90.86 426.52,90.91 426.69,90.96 426.86,91.02 427.02,91.08 427.19,91.13 427.36,91.17 427.52,91.20 427.69,91.22 427.86,76.64 428.02,76.49 428.19,76.40 428.36,76.40 428.52,76.48 428.69,76.63 428.86,76.81 429.02,76.98 429.19,77.12 429.36,77.21 429.52,77.22 429.69,77.19 429.86,77.12 430.02,77.05 430.19,77.00 430.36,76.99 430.52,77.03 430.69,77.10 430.86,77.21 431.02,77.32 431.19,77.42 431.36,77.50 431.52,77.55 431.69,77.56 431.85,77.55 432.02,77.53 432.19,77.51 432.35,77.51 432.52,77.53 432.69,77.57 432.85,77.64 433.02,77.71 433.19,77.79 433.35,77.86 433.52,77.91 433.69,77.94 433.85,77.96 434.02,77.97 434.19,77.97 434.35,77.98 434.52,78.00 434.69,78.03 434.85,78.08 435.02,78.13 435.19,78.19 435.35,78.25 435.52,78.30 435.69,78.34 435.85,78.37 436.02,78.39 436.19,54.59 436.35,54.44 436.52,54.35 436.69,54.35 436.85,54.43 437.02,54.58 437.19,54.76 437.35,54.93 437.52,55.07 437.68,55.15 437.85,55.17 438.02,55.14 438.18,55.07 438.35,55.00 438.52,54.95 438.68,54.94 438.85,54.97 439.02,55.05 439.18,55.16 439.35,55.27 439.52,55.37 439.68,55.45 439.85,55.50 440.02,55.51 440.18,55.50 440.35,55.48 440.52,55.46 440.68,55.46 440.85,55.48 441.02,55.52 441.18,55.59 441.35,55.66 441.52,55.74 441.68,55.81 441.85,55.86 442.02,55.89 442.18,55.91 442.35,55.91 442.52,55.92 442.68,55.93 442.85,55.95 443.02,55.98 443.18,56.03 443.35,56.08 443.51,56.14 443.68,56.20 443.85,56.24 444.01,56.28 444.18,56.31 444.35,56.34 444.51,48.17 444.68,48.02 444.85,47.94 445.01,47.93 445.18,48.01 445.35,48.16 445.51,48.34 445.68,48.52 445.85,48.66 446.01,48.74 446.18,48.76 446.35,48.72 446.51,48.66 446.68,48.59 446.85,48.54 447.01,48.52 447.18,48.56 447.35,48.64 447.51,48.74 447.68,48.85 447.85,48.96 448.01,49.04 448.18,49.08 448.35,49.09 448.51,49.08 448.68,49.06 448.85,49.04 449.01,49.04 449.18,49.06 449.34,49.11 449.51,49.17 449.68,49.25 449.84,49.32 450.01,49.39 450.18,49.44 450.34,49.48 450.51,49.49 450.68,49.50 450.84,49.50 451.01,49.51 451.18,49.53 451.34,49.57 451.51,49.61 451.68,49.67 451.84,49.73 452.01,49.78 452.18,49.83 452.34,49.87 452.51,49.90 452.68,49.92 452.84,39.35 453.01,39.20 453.18,39.12 453.34,39.11 453.51,39.19 453.68,39.34 453.84,39.52 454.01,39.70 454.18,39.84 454.34,39.92 454.51,39.94 454.68,39.90 454.84,39.84 455.01,39.77 455.17,39.71 455.34,39.70 455.51,39.74 455.67,39.81 455.84,39.92 456.01,40.03 456.17,40.14 456.34,40.22 456.51,40.26 456.67,40.27 456.84,40.26 457.01,40.24 457.17,40.22 457.34,40.22 457.51,40.24 457.67,40.29 457.84,40.35 458.01,40.43 458.17,40.50 458.34,40.57 458.51,40.62 458.67,40.65 458.84,40.67 459.01,40.68 459.17,40.68 459.34,40.69 459.51,40.71 459.67,40.75 459.84,40.79 460.01,40.85 460.17,40.90 460.34,40.96 460.51,41.01 460.67,41.05 460.84,41.08 461.00,41.10 461.17,36.95 461.34,36.80 461.50,36.71 461.67,36.71 461.84,36.79 462.00,36.94 462.17,37.12 462.34,37.29 462.50,37.43 462.67,37.51 462.84,37.53 463.00,37.50 463.17,37.43 463.34,37.36 463.50,37.31 463.67,37.30 463.84,37.33 464.00,37.41 464.17,37.51 464.34,37.63 464.50,37.73 464.67,37.81 464.84,37.86 465.00,37.87 465.17,37.86 465.34,37.84 465.50,37.82 465.67,37.82 465.84,37.84 466.00,37.88 466.17,37.95 466.34,38.02 466.50,38.10 466.67,38.17 466.83,38.22 467.00,38.25 467.17,38.27 467.33,38.27 467.50,38.28 467.67,38.29 467.83,38.31 468.00,38.34 468.17,38.39 468.33,38.44 468.50,38.50 468.67,38.55 468.83,38.60 469.00,38.64 469.17,38.67 469.33,38.70 469.50,38.71" fill="none" stroke="#ff0000" stroke-width="1.8" stroke-linejoin="miter"/>
<rect x="294.6" y="17.3" width="174.9" height="128.3" fill="none" stroke="#000" stroke-width="1.3"/>
<line x1="291.6" y1="137.58" x2="294.6" y2="137.58" stroke="#111" stroke-width="1.3" stroke-linecap="butt"/>
<text x="289.4" y="140.51" font-size="9.4" text-anchor="end" font-weight="bold" fill="#000" stroke="#000" stroke-width="0.2">0</text>
<line x1="291.6" y1="105.51" x2="294.6" y2="105.51" stroke="#111" stroke-width="1.3" stroke-linecap="butt"/>
<text x="289.4" y="108.44" font-size="9.4" text-anchor="end" font-weight="bold" fill="#000" stroke="#000" stroke-width="0.2">40</text>
<line x1="291.6" y1="73.43" x2="294.6" y2="73.43" stroke="#111" stroke-width="1.3" stroke-linecap="butt"/>
<text x="289.4" y="76.36" font-size="9.4" text-anchor="end" font-weight="bold" fill="#000" stroke="#000" stroke-width="0.2">80</text>
<line x1="291.6" y1="41.36" x2="294.6" y2="41.36" stroke="#111" stroke-width="1.3" stroke-linecap="butt"/>
<text x="289.4" y="44.29" font-size="9.4" text-anchor="end" font-weight="bold" fill="#000" stroke="#000" stroke-width="0.2">120</text>
<line x1="292.8" y1="121.54" x2="294.6" y2="121.54" stroke="#111" stroke-width="1.3" stroke-linecap="butt"/>
<line x1="292.8" y1="89.47" x2="294.6" y2="89.47" stroke="#111" stroke-width="1.3" stroke-linecap="butt"/>
<line x1="292.8" y1="57.39" x2="294.6" y2="57.39" stroke="#111" stroke-width="1.3" stroke-linecap="butt"/>
<line x1="292.8" y1="25.32" x2="294.6" y2="25.32" stroke="#111" stroke-width="1.3" stroke-linecap="butt"/>
<line x1="294.6" y1="145.6" x2="294.6" y2="148.6" stroke="#111" stroke-width="1.3" stroke-linecap="butt"/>
<text x="294.6" y="158.63" font-size="9.4" text-anchor="middle" font-weight="bold" fill="#000" stroke="#000" stroke-width="0.2">0</text>
<line x1="327.91" y1="145.6" x2="327.91" y2="148.6" stroke="#111" stroke-width="1.3" stroke-linecap="butt"/>
<text x="327.91" y="158.63" font-size="9.4" text-anchor="middle" font-weight="bold" fill="#000" stroke="#000" stroke-width="0.2">200</text>
<line x1="361.23" y1="145.6" x2="361.23" y2="148.6" stroke="#111" stroke-width="1.3" stroke-linecap="butt"/>
<text x="361.23" y="158.63" font-size="9.4" text-anchor="middle" font-weight="bold" fill="#000" stroke="#000" stroke-width="0.2">400</text>
<line x1="394.54" y1="145.6" x2="394.54" y2="148.6" stroke="#111" stroke-width="1.3" stroke-linecap="butt"/>
<text x="394.54" y="158.63" font-size="9.4" text-anchor="middle" font-weight="bold" fill="#000" stroke="#000" stroke-width="0.2">600</text>
<line x1="427.86" y1="145.6" x2="427.86" y2="148.6" stroke="#111" stroke-width="1.3" stroke-linecap="butt"/>
<text x="427.86" y="158.63" font-size="9.4" text-anchor="middle" font-weight="bold" fill="#000" stroke="#000" stroke-width="0.2">800</text>
<line x1="461.17" y1="145.6" x2="461.17" y2="148.6" stroke="#111" stroke-width="1.3" stroke-linecap="butt"/>
<text x="461.17" y="158.63" font-size="9.4" text-anchor="middle" font-weight="bold" fill="#000" stroke="#000" stroke-width="0.2">1000</text>
<line x1="311.26" y1="145.6" x2="311.26" y2="147.4" stroke="#111" stroke-width="1.3" stroke-linecap="butt"/>
<line x1="344.57" y1="145.6" x2="344.57" y2="147.4" stroke="#111" stroke-width="1.3" stroke-linecap="butt"/>
<line x1="377.89" y1="145.6" x2="377.89" y2="147.4" stroke="#111" stroke-width="1.3" stroke-linecap="butt"/>
<line x1="411.2" y1="145.6" x2="411.2" y2="147.4" stroke="#111" stroke-width="1.3" stroke-linecap="butt"/>
<line x1="444.51" y1="145.6" x2="444.51" y2="147.4" stroke="#111" stroke-width="1.3" stroke-linecap="butt"/>
<text x="381.8" y="175.5" font-size="12.4" text-anchor="middle" font-weight="bold" fill="#000" stroke="#000" stroke-width="0.25">Time / s</text>
<text transform="translate(262,89) rotate(-90)" font-size="12.4" text-anchor="middle" font-weight="bold" stroke="#000" stroke-width="0.25">Current / µA</text>
<line x1="297" y1="23" x2="313" y2="23" stroke="#ff0000" stroke-width="1.4" stroke-linecap="butt"/>
<text x="314.2" y="25.01" font-size="7.6" text-anchor="start" font-weight="bold" fill="#000">PtNP CNT film</text>
<line x1="297" y1="32.2" x2="313" y2="32.2" stroke="#111" stroke-width="1.4" stroke-linecap="butt"/>
<text x="314.2" y="34.41" font-size="7.6" text-anchor="start" font-weight="bold" fill="#000">bare CNT film</text>
<line x1="386.3" y1="126.3" x2="386.3" y2="133.2" stroke="#000" stroke-width="1.3" stroke-linecap="butt"/>
<polygon points="384.60,132.50 388.00,132.50 386.30,135.70" fill="#000"/>
<text x="386" y="125.8" font-size="5.2" text-anchor="middle" font-weight="bold" fill="#000">50 µM</text>
<line x1="395.7" y1="120.7" x2="395.7" y2="133.2" stroke="#000" stroke-width="1.3" stroke-linecap="butt"/>
<polygon points="394.00,132.50 397.40,132.50 395.70,135.70" fill="#000"/>
<text x="393.2" y="118.4" font-size="5.2" text-anchor="middle" font-weight="bold" fill="#000">100 µM</text>
<line x1="403.2" y1="112.6" x2="403.2" y2="125.7" stroke="#000" stroke-width="1.3" stroke-linecap="butt"/>
<polygon points="401.50,125.00 404.90,125.00 403.20,128.20" fill="#000"/>
<text x="400.7" y="110.3" font-size="5.2" text-anchor="middle" font-weight="bold" fill="#000">500 µM</text>
<line x1="412" y1="103.2" x2="412" y2="118.8" stroke="#000" stroke-width="1.3" stroke-linecap="butt"/>
<polygon points="410.30,118.10 413.70,118.10 412.00,121.30" fill="#000"/>
<text x="412.3" y="100.8" font-size="5.2" text-anchor="middle" font-weight="bold" fill="#000">1 mM</text>
<line x1="420" y1="79.5" x2="420" y2="86.5" stroke="#000" stroke-width="1.3" stroke-linecap="butt"/>
<polygon points="418.30,85.80 421.70,85.80 420.00,89.00" fill="#000"/>
<text x="420.3" y="77.8" font-size="5.2" text-anchor="middle" font-weight="bold" fill="#000">5 mM</text>
<line x1="428.5" y1="67" x2="428.5" y2="74" stroke="#000" stroke-width="1.3" stroke-linecap="butt"/>
<polygon points="426.80,73.30 430.20,73.30 428.50,76.50" fill="#000"/>
<text x="428.3" y="65.5" font-size="5.2" text-anchor="middle" font-weight="bold" fill="#000">10 mM</text>
<line x1="436.6" y1="45.4" x2="436.6" y2="52.1" stroke="#000" stroke-width="1.3" stroke-linecap="butt"/>
<polygon points="434.90,51.40 438.30,51.40 436.60,54.60" fill="#000"/>
<text x="434.3" y="44.4" font-size="5.2" text-anchor="middle" font-weight="bold" fill="#000">50 mM</text>
<line x1="445" y1="38.5" x2="445" y2="45.2" stroke="#000" stroke-width="1.3" stroke-linecap="butt"/>
<polygon points="443.30,44.50 446.70,44.50 445.00,47.70" fill="#000"/>
<text x="444" y="37.5" font-size="5.2" text-anchor="middle" font-weight="bold" fill="#000">0.1 M</text>
<line x1="453.5" y1="30.3" x2="453.5" y2="36" stroke="#000" stroke-width="1.3" stroke-linecap="butt"/>
<polygon points="451.80,35.30 455.20,35.30 453.50,38.50" fill="#000"/>
<text x="452" y="28.8" font-size="5.2" text-anchor="middle" font-weight="bold" fill="#000">0.5 M</text>
<line x1="462.5" y1="26.5" x2="462.5" y2="33.2" stroke="#000" stroke-width="1.3" stroke-linecap="butt"/>
<polygon points="460.80,32.50 464.20,32.50 462.50,35.70" fill="#000"/>
<text x="463.6" y="24.8" font-size="5.2" text-anchor="middle" font-weight="bold" fill="#000">1 M</text>
<rect x="310.4" y="37.8" width="87.8" height="64" fill="#fff"/>
<polyline points="310.40,92.63 310.53,91.94 310.65,92.33 310.78,91.81 310.90,91.76 311.03,93.01 311.15,93.13 311.28,91.28 311.40,92.58 311.53,92.64 311.65,90.93 311.78,92.11 311.91,91.29 312.03,92.09 312.16,91.73 312.28,92.82 312.41,91.74 312.53,91.22 312.66,91.99 312.78,91.50 312.91,91.66 313.03,93.02 313.16,91.46 313.28,91.84 313.41,92.49 313.54,93.09 313.66,91.22 313.79,92.10 313.91,91.55 314.04,91.19 314.16,91.56 314.29,91.10 314.41,92.28 314.54,91.37 314.66,92.16 314.79,91.06 314.92,91.19 315.04,92.94 315.17,92.86 315.29,92.67 315.42,91.00 315.54,92.18 315.67,91.76 315.79,92.49 315.92,92.02 316.04,92.30 316.17,92.37 316.30,91.85 316.42,91.85 316.55,91.13 316.67,91.63 316.80,91.08 316.92,91.24 317.05,90.94 317.17,91.66 317.30,92.79 317.42,91.23 317.55,91.00 317.67,91.13 317.80,91.89 317.93,91.56 318.05,92.69 318.18,91.30 318.30,91.88 318.43,92.52 318.55,93.02 318.68,91.25 318.80,90.94 318.93,92.96 319.05,91.37 319.18,92.24 319.31,92.82 319.43,92.50 319.56,91.44 319.68,91.21 319.81,93.06 319.93,91.78 320.06,93.06 320.18,91.55 320.31,92.42 320.43,91.19 320.56,90.96 320.69,92.03 320.81,90.92 320.94,92.47 321.06,92.99 321.19,91.82 321.31,93.09 321.44,92.72 321.56,92.25 321.69,91.79 321.81,92.81 321.94,93.06 322.06,91.22 322.19,92.46 322.32,91.01 322.44,91.15 322.57,92.31 322.69,92.13 322.82,92.00 322.94,91.72 323.07,91.83 323.19,91.91 323.32,91.77 323.44,91.05 323.57,92.02 323.70,92.19 323.82,91.55 323.95,92.63 324.07,92.49 324.20,90.97 324.32,91.99 324.45,91.93 324.57,93.13 324.70,92.23 324.82,91.86 324.95,93.12 325.08,91.78 325.20,91.74 325.33,93.03 325.45,91.75 325.58,92.12 325.70,91.64 325.83,92.37 325.95,91.58 326.08,91.51 326.20,93.11 326.33,93.02 326.45,91.65 326.58,91.00 326.71,92.60 326.83,92.14 326.96,91.83 327.08,92.44 327.21,92.34 327.33,92.46 327.46,92.33 327.58,91.83 327.71,92.49 327.83,92.32 327.96,91.43 328.09,93.10 328.21,91.88 328.34,91.51 328.46,92.47 328.59,92.66 328.71,91.36 328.84,92.63 328.96,92.74 329.09,92.19 329.21,91.60 329.34,92.93 329.47,92.44 329.59,92.41 329.72,91.29 329.84,92.18 329.97,91.24 330.09,92.78 330.22,92.41 330.34,91.70 330.47,91.18 330.59,92.15 330.72,92.66 330.84,92.89 330.97,91.97 331.10,92.73 331.22,91.35 331.35,91.28 331.47,92.75 331.60,92.54 331.72,91.35 331.85,91.72 331.97,91.35 332.10,92.39 332.22,92.87 332.35,92.51 332.48,91.38 332.60,92.55 332.73,92.38 332.85,92.23 332.98,92.22 333.10,92.24 333.23,91.10 333.35,92.81 333.48,93.15 333.60,91.05 333.73,91.19 333.86,90.95 333.98,92.19 334.11,91.03 334.23,91.08 334.36,92.66 334.48,91.49 334.61,91.29 334.73,91.67 334.86,92.00 334.98,92.51 335.11,92.40 335.23,92.65 335.36,93.01 335.49,88.00 335.61,88.68 335.74,87.51 335.86,89.22 335.99,87.30 336.11,87.77 336.24,87.26 336.36,87.32 336.49,87.31 336.61,88.03 336.74,89.30 336.87,87.66 336.99,88.94 337.12,88.66 337.24,87.85 337.37,88.16 337.49,88.41 337.62,87.23 337.74,87.96 337.87,88.57 337.99,88.77 338.12,87.41 338.25,88.27 338.37,87.59 338.50,88.55 338.62,88.90 338.75,88.14 338.87,87.51 339.00,88.96 339.12,87.57 339.25,87.28 339.37,87.54 339.50,87.50 339.62,89.33 339.75,87.94 339.88,87.42 340.00,89.24 340.13,88.74 340.25,88.75 340.38,88.17 340.50,88.40 340.63,88.29 340.75,87.61 340.88,89.35 341.00,89.23 341.13,89.07 341.26,89.08 341.38,89.20 341.51,87.18 341.63,87.45 341.76,89.17 341.88,88.24 342.01,88.65 342.13,88.66 342.26,88.58 342.38,87.91 342.51,88.05 342.64,88.56 342.76,88.94 342.89,88.63 343.01,89.09 343.14,88.12 343.26,87.77 343.39,88.52 343.51,89.19 343.64,88.97 343.76,88.54 343.89,88.02 344.01,87.62 344.14,88.52 344.27,87.58 344.39,87.98 344.52,88.41 344.64,88.54 344.77,88.27 344.89,87.81 345.02,88.44 345.14,87.83 345.27,88.35 345.39,88.83 345.52,88.18 345.65,87.83 345.77,89.23 345.90,88.43 346.02,88.43 346.15,87.42 346.27,87.29 346.40,88.55 346.52,87.38 346.65,87.62 346.77,88.80 346.90,88.35 347.03,89.12 347.15,87.57 347.28,87.91 347.40,87.41 347.53,87.62 347.65,87.90 347.78,87.75 347.90,88.14 348.03,89.17 348.15,88.08 348.28,89.39 348.40,89.08 348.53,87.67 348.66,89.30 348.78,89.20 348.91,89.18 349.03,87.43 349.16,89.01 349.28,89.36 349.41,87.52 349.53,89.14 349.66,87.52 349.78,87.90 349.91,87.54 350.04,87.28 350.16,88.12 350.29,87.63 350.41,89.33 350.54,87.70 350.66,88.27 350.79,87.82 350.91,89.18 351.04,87.74 351.16,87.33 351.29,89.28 351.42,88.70 351.54,88.16 351.67,87.57 351.79,88.88 351.92,89.02 352.04,88.87 352.17,88.05 352.29,87.74 352.42,88.55 352.54,88.61 352.67,88.54 352.79,88.65 352.92,88.49 353.05,89.25 353.17,88.31 353.30,87.25 353.42,88.51 353.55,87.76 353.67,89.08 353.80,87.89 353.92,87.74 354.05,87.93 354.17,88.28 354.30,88.36 354.43,88.00 354.55,87.43 354.68,89.11 354.80,89.23 354.93,87.77 355.05,87.39 355.18,88.29 355.30,88.45 355.43,87.84 355.55,89.03 355.68,88.85 355.81,89.00 355.93,88.14 356.06,88.75 356.18,88.93 356.31,87.90 356.43,87.32 356.56,88.79 356.68,87.88 356.81,88.53 356.93,87.54 357.06,88.15 357.18,88.86 357.31,88.97 357.44,89.41 357.56,88.39 357.69,88.60 357.81,89.08 357.94,88.66 358.06,88.74 358.19,87.73 358.31,89.14 358.44,87.25 358.56,88.39 358.69,88.13 358.82,88.42 358.94,87.60 359.07,87.63 359.19,88.22 359.32,88.39 359.44,87.86 359.57,87.55 359.69,88.58 359.82,87.83 359.94,87.33 360.07,88.43 360.20,88.96 360.32,88.95 360.45,87.87 360.57,87.97 360.70,87.33 360.82,87.57 360.95,88.94 361.07,89.06 361.20,88.90 361.32,89.07 361.45,87.91 361.57,87.56 361.70,87.47 361.83,88.92 361.95,87.55 362.08,88.79 362.20,88.54 362.33,87.86 362.45,89.30 362.58,89.29 362.70,87.63 362.83,88.84 362.95,88.70 363.08,88.20 363.21,87.98 363.33,89.48 363.46,88.75 363.58,88.52 363.71,88.41 363.83,89.03 363.96,88.19 364.08,87.36 364.21,88.63 364.33,88.28 364.46,89.24 364.59,88.89 364.71,88.02 364.84,89.26 364.96,87.52 365.09,87.47 365.21,89.29 365.34,87.40 365.46,88.67 365.59,87.78 365.71,87.82 365.84,88.85 365.96,88.00 366.09,88.05 366.22,87.71 366.34,88.92 366.47,87.83 366.59,87.37 366.72,88.01 366.84,88.32 366.97,89.27 367.09,88.42 367.22,88.73 367.34,87.91 367.47,88.00 367.60,88.26 367.72,89.12 367.85,88.08 367.97,88.11 368.10,89.13 368.22,87.54 368.35,88.06 368.47,89.25 368.60,87.44 368.72,89.22 368.85,88.79 368.98,87.92 369.10,88.20 369.23,88.29 369.35,88.09 369.48,88.51 369.60,88.84 369.73,89.14 369.85,89.39 369.98,87.94 370.10,87.85 370.23,88.32 370.35,87.89 370.48,88.74 370.61,88.95 370.73,88.69 370.86,87.59 370.98,89.45 371.11,88.42 371.23,88.99 371.36,87.83 371.48,88.76 371.61,88.80 371.73,88.65 371.86,88.34 371.99,87.82 372.11,88.76 372.24,87.66 372.36,89.30 372.49,88.95 372.61,89.33 372.74,89.31 372.86,87.81 372.99,87.93 373.11,89.15 373.24,89.14 373.37,88.63 373.49,87.90 373.62,87.74 373.74,87.89 373.87,88.24 373.99,89.24 374.12,88.67 374.24,89.13 374.37,88.39 374.49,88.30 374.62,89.12 374.74,89.01 374.87,87.82 375.00,89.50 375.12,87.77 375.25,87.58 375.37,87.45 375.50,88.72 375.62,78.16 375.75,78.09 375.87,77.98 376.00,77.21 376.12,77.86 376.25,78.73 376.38,77.47 376.50,78.32 376.63,78.05 376.75,77.77 376.88,79.39 377.00,77.67 377.13,77.92 377.25,78.30 377.38,78.23 377.50,78.37 377.63,78.97 377.76,78.21 377.88,79.32 378.01,78.28 378.13,77.95 378.26,78.40 378.38,78.13 378.51,77.25 378.63,77.40 378.76,79.10 378.88,77.63 379.01,78.00 379.13,79.29 379.26,78.59 379.39,78.88 379.51,79.23 379.64,78.19 379.76,77.32 379.89,78.68 380.01,77.45 380.14,77.84 380.26,79.10 380.39,77.48 380.51,78.05 380.64,77.32 380.77,77.80 380.89,77.74 381.02,78.63 381.14,77.59 381.27,77.31 381.39,77.47 381.52,78.42 381.64,77.70 381.77,78.31 381.89,79.16 382.02,79.30 382.15,79.23 382.27,78.95 382.40,79.04 382.52,78.29 382.65,77.83 382.77,78.20 382.90,78.45 383.02,77.95 383.15,78.72 383.27,78.36 383.40,77.70 383.52,78.50 383.65,79.00 383.78,77.39 383.90,77.79 384.03,78.58 384.15,78.57 384.28,78.21 384.40,78.06 384.53,78.90 384.65,79.39 384.78,78.93 384.90,77.65 385.03,79.08 385.16,78.37 385.28,78.96 385.41,78.93 385.53,79.02 385.66,52.58 385.78,53.10 385.91,53.42 386.03,53.23 386.16,53.10 386.28,52.38 386.41,53.35 386.54,53.43 386.66,52.48 386.79,52.57 386.91,51.90 387.04,53.37 387.16,52.58 387.29,52.59 387.41,53.42 387.54,51.32 387.66,52.99 387.79,53.27 387.91,52.42 388.04,53.11 388.17,52.09 388.29,52.70 388.42,53.20 388.54,53.36 388.67,51.85 388.79,52.86 388.92,51.72 389.04,52.44 389.17,51.39 389.29,52.81 389.42,52.92 389.55,52.88 389.67,51.66 389.80,52.07 389.92,52.71 390.05,53.27 390.17,51.95 390.30,51.31 390.42,52.15 390.55,53.47 390.67,53.41 390.80,53.28 390.93,53.10 391.05,53.40 391.18,53.36 391.30,52.01 391.43,51.46 391.55,53.03 391.68,51.30 391.80,52.41 391.93,51.68 392.05,51.43 392.18,51.37 392.30,53.40 392.43,52.80 392.56,52.12 392.68,51.36 392.81,53.28 392.93,52.82 393.06,51.58 393.18,53.22 393.31,52.61 393.43,52.73 393.56,51.96 393.68,51.40 393.81,53.09 393.94,51.82 394.06,51.84 394.19,51.61 394.31,52.24 394.44,51.41 394.56,52.67 394.69,52.55 394.81,52.97 394.94,51.73 395.06,52.40 395.19,52.88 395.32,53.10 395.44,51.87 395.57,52.12 395.69,51.89 395.82,52.61 395.94,52.39 396.07,53.14 396.19,51.89 396.32,53.43 396.44,52.43 396.57,51.78 396.69,51.96 396.82,53.26 396.95,52.95 397.07,51.59 397.20,52.04 397.32,51.51 397.45,51.53 397.57,52.47 397.70,51.47 397.82,51.84 397.95,52.73 398.07,52.65 398.20,53.32" fill="none" stroke="#ff0000" stroke-width="1.5" stroke-linejoin="round"/>
<polyline points="310.40,92.66 310.65,91.88 310.90,93.08 311.15,92.42 311.40,93.07 311.65,93.11 311.91,92.31 312.16,92.89 312.41,93.16 312.66,93.01 312.91,92.32 313.16,92.40 313.41,93.21 313.66,92.90 313.91,91.86 314.16,92.91 314.41,92.43 314.66,92.63 314.92,92.12 315.17,92.37 315.42,92.11 315.67,92.47 315.92,92.96 316.17,92.97 316.42,93.11 316.67,92.06 316.92,93.07 317.17,93.19 317.42,91.86 317.67,92.94 317.93,91.97 318.18,93.10 318.43,92.57 318.68,92.91 318.93,92.06 319.18,92.36 319.43,92.32 319.68,92.15 319.93,92.00 320.18,92.74 320.43,92.37 320.69,92.60 320.94,93.07 321.19,92.05 321.44,92.39 321.69,92.08 321.94,92.93 322.19,92.46 322.44,92.57 322.69,92.20 322.94,96.32 323.19,95.94 323.44,95.74 323.70,93.12 323.95,92.45 324.20,92.19 324.45,92.63 324.70,92.31 324.95,92.37 325.20,92.92 325.45,92.73 325.70,91.82 325.95,92.75 326.20,92.62 326.45,93.11 326.71,92.92 326.96,92.99 327.21,91.91 327.46,92.20 327.71,91.99 327.96,91.83 328.21,92.36 328.46,91.91 328.71,92.47 328.96,92.63 329.21,91.89 329.47,91.95 329.72,91.89 329.97,92.54 330.22,92.13 330.47,92.65 330.72,91.82 330.97,91.93 331.22,92.81 331.47,91.91 331.72,92.96 331.97,93.09 332.22,92.21 332.48,92.81 332.73,92.49 332.98,92.32 333.23,93.17 333.48,92.17 333.73,92.84 333.98,92.62 334.23,92.74 334.48,92.18 334.73,92.17 334.98,92.82 335.23,93.08 335.49,93.12 335.74,92.98 335.99,93.47 336.24,90.18 336.49,89.33 336.74,89.44 336.99,89.07 337.24,89.08 337.49,89.24 337.74,89.96 337.99,90.28 338.25,90.08 338.50,89.88 338.75,89.81 339.00,89.80 339.25,90.08 339.50,89.40 339.75,90.21 340.00,89.98 340.25,89.40 340.50,89.53 340.75,90.26 341.00,90.35 341.26,89.58 341.51,90.71 341.76,90.56 342.01,90.01 342.26,90.02 342.51,90.56 342.76,90.74 343.01,90.54 343.26,89.76 343.51,90.20 343.76,89.49 344.01,89.78 344.27,89.53 344.52,90.87 344.77,90.68 345.02,90.93 345.27,90.36 345.52,90.51 345.77,90.93 346.02,90.25 346.27,90.90 346.52,90.61 346.77,90.72 347.03,89.95 347.28,90.51 347.53,90.75 347.78,91.07 348.03,93.74 348.28,93.48 348.53,93.43 348.78,89.91 349.03,90.07 349.28,90.88 349.53,91.05 349.78,90.19 350.04,90.16 350.29,90.57 350.54,90.13 350.79,90.54 351.04,90.94 351.29,91.11 351.54,91.34 351.79,90.48 352.04,90.14 352.29,90.14 352.54,90.77 352.79,90.51 353.05,90.16 353.30,90.33 353.55,90.65 353.80,90.93 354.05,90.80 354.30,91.30 354.55,91.30 354.80,90.61 355.05,90.20 355.30,90.84 355.55,91.05 355.81,91.14 356.06,91.02 356.31,90.54 356.56,91.05 356.81,90.35 357.06,91.50 357.31,91.29 357.56,91.02 357.81,91.19 358.06,90.59 358.31,90.63 358.56,90.50 358.82,90.97 359.07,91.80 359.32,91.06 359.57,91.11 359.82,91.21 360.07,91.52 360.32,90.93 360.57,93.86 360.82,95.02 361.07,94.23 361.32,91.47 361.57,91.28 361.83,90.76 362.08,90.69 362.33,91.15 362.58,91.80 362.83,90.79 363.08,91.85 363.33,91.58 363.58,90.97 363.83,91.71 364.08,91.79 364.33,90.85 364.59,90.87 364.84,91.77 365.09,91.68 365.34,91.85 365.59,92.08 365.84,91.93 366.09,90.92 366.34,92.20 366.59,92.00 366.84,92.06 367.09,92.25 367.34,91.64 367.60,91.35 367.85,91.23 368.10,91.54 368.35,91.29 368.60,92.45 368.85,92.07 369.10,91.13 369.35,92.41 369.60,92.14 369.85,91.86 370.10,92.17 370.35,91.80 370.61,92.52 370.86,92.27 371.11,91.27 371.36,92.43 371.61,91.37 371.86,92.41 372.11,91.28 372.36,91.75 372.61,91.80 372.86,92.53 373.11,92.67 373.37,91.69 373.62,92.53 373.87,92.53 374.12,91.65 374.37,91.59 374.62,92.77 374.87,91.50 375.12,92.12 375.37,92.35 375.62,90.83 375.87,90.41 376.12,89.54 376.38,90.51 376.63,90.70 376.88,90.65 377.13,90.65 377.38,90.31 377.63,89.49 377.88,90.65 378.13,90.46 378.38,89.38 378.63,89.27 378.88,89.27 379.13,90.28 379.39,90.10 379.64,89.24 379.89,89.87 380.14,89.53 380.39,90.06 380.64,90.44 380.89,89.96 381.14,89.37 381.39,89.29 381.64,89.57 381.89,89.69 382.15,89.56 382.40,89.67 382.65,89.51 382.90,89.07 383.15,89.93 383.40,89.35 383.65,88.85 383.90,88.94 384.15,89.86 384.40,88.73 384.65,88.88 384.90,89.80 385.16,89.64 385.41,89.70 385.66,83.87 385.91,82.76 386.16,83.75 386.41,83.29 386.66,84.55 386.91,84.88 387.16,83.87 387.41,84.17 387.66,84.08 387.91,84.71 388.17,85.12 388.42,84.86 388.67,85.87 388.92,85.31 389.17,85.52 389.42,86.01 389.67,85.44 389.92,85.90 390.17,85.71 390.42,85.97 390.67,86.12 390.93,86.13 391.18,85.86 391.43,85.40 391.68,85.53 391.93,85.71 392.18,85.81 392.43,86.66 392.68,85.76 392.93,86.82 393.18,87.10 393.43,86.64 393.68,86.38 393.94,87.00 394.19,86.65 394.44,87.23 394.69,86.33 394.94,87.13 395.19,87.16 395.44,87.16 395.69,86.74 395.94,86.66 396.19,87.37 396.44,87.57 396.69,87.39 396.95,88.23 397.20,87.80 397.45,87.28 397.70,87.44 397.95,88.53 398.20,87.48" fill="none" stroke="#000" stroke-width="1.0" stroke-linejoin="round"/>
<rect x="310.4" y="37.8" width="87.8" height="64" fill="none" stroke="#000" stroke-width="1.0"/>
<line x1="308.9" y1="101.8" x2="310.4" y2="101.8" stroke="#000" stroke-width="0.8" stroke-linecap="butt"/>
<text x="308.2" y="103.6" font-size="5.3" text-anchor="end" font-weight="normal" fill="#111">0.00</text>
<line x1="308.9" y1="85.8" x2="310.4" y2="85.8" stroke="#000" stroke-width="0.8" stroke-linecap="butt"/>
<text x="308.2" y="87.6" font-size="5.3" text-anchor="end" font-weight="normal" fill="#111">0.05</text>
<line x1="308.9" y1="69.8" x2="310.4" y2="69.8" stroke="#000" stroke-width="0.8" stroke-linecap="butt"/>
<text x="308.2" y="71.6" font-size="5.3" text-anchor="end" font-weight="normal" fill="#111">0.10</text>
<line x1="308.9" y1="53.8" x2="310.4" y2="53.8" stroke="#000" stroke-width="0.8" stroke-linecap="butt"/>
<text x="308.2" y="55.6" font-size="5.3" text-anchor="end" font-weight="normal" fill="#111">0.15</text>
<line x1="308.9" y1="37.8" x2="310.4" y2="37.8" stroke="#000" stroke-width="0.8" stroke-linecap="butt"/>
<text x="308.2" y="39.6" font-size="5.3" text-anchor="end" font-weight="normal" fill="#111">0.20</text>
<line x1="310.4" y1="101.8" x2="310.4" y2="103.3" stroke="#000" stroke-width="0.8" stroke-linecap="butt"/>
<text x="310.4" y="107.7" font-size="5.3" text-anchor="middle" font-weight="normal" fill="#111">200</text>
<line x1="335.49" y1="101.8" x2="335.49" y2="103.3" stroke="#000" stroke-width="0.8" stroke-linecap="butt"/>
<text x="335.49" y="107.7" font-size="5.3" text-anchor="middle" font-weight="normal" fill="#111">300</text>
<line x1="360.57" y1="101.8" x2="360.57" y2="103.3" stroke="#000" stroke-width="0.8" stroke-linecap="butt"/>
<text x="360.57" y="107.7" font-size="5.3" text-anchor="middle" font-weight="normal" fill="#111">400</text>
<line x1="385.66" y1="101.8" x2="385.66" y2="103.3" stroke="#000" stroke-width="0.8" stroke-linecap="butt"/>
<text x="385.66" y="107.7" font-size="5.3" text-anchor="middle" font-weight="normal" fill="#111">500</text>
<line x1="322.94" y1="101.8" x2="322.94" y2="102.8" stroke="#000" stroke-width="0.6" stroke-linecap="butt"/>
<line x1="348.03" y1="101.8" x2="348.03" y2="102.8" stroke="#000" stroke-width="0.6" stroke-linecap="butt"/>
<line x1="373.11" y1="101.8" x2="373.11" y2="102.8" stroke="#000" stroke-width="0.6" stroke-linecap="butt"/>
<text x="316.8" y="84.7" font-size="4.4" text-anchor="middle" font-weight="bold" fill="#222">10 nM</text>
<line x1="311.15" y1="85.6" x2="311.15" y2="88" stroke="#222" stroke-width="0.5" stroke-linecap="butt"/>
<text x="323.5" y="78.7" font-size="4.4" text-anchor="middle" font-weight="bold" fill="#222">50 nM</text>
<line x1="322.94" y1="79.6" x2="322.94" y2="88" stroke="#222" stroke-width="0.5" stroke-linecap="butt"/>
<text x="336.5" y="80.8" font-size="4.4" text-anchor="middle" font-weight="bold" fill="#222">100 nM</text>
<line x1="335.49" y1="81.7" x2="335.49" y2="86" stroke="#222" stroke-width="0.5" stroke-linecap="butt"/>
<text x="347.6" y="74.9" font-size="4.4" text-anchor="middle" font-weight="bold" fill="#222">500 nM</text>
<line x1="348.03" y1="75.8" x2="348.03" y2="85.5" stroke="#222" stroke-width="0.5" stroke-linecap="butt"/>
<text x="359.7" y="80.3" font-size="4.4" text-anchor="middle" font-weight="bold" fill="#222">1 µM</text>
<line x1="360.57" y1="81.2" x2="360.57" y2="85.5" stroke="#222" stroke-width="0.5" stroke-linecap="butt"/>
<text x="375" y="64.5" font-size="4.4" text-anchor="middle" font-weight="bold" fill="#222">5 µM</text>
<line x1="375.62" y1="65.4" x2="375.62" y2="76" stroke="#222" stroke-width="0.5" stroke-linecap="butt"/>
<text x="388.2" y="45.9" font-size="4.4" text-anchor="middle" font-weight="bold" fill="#222">10 µM</text>
<line x1="385.66" y1="46.8" x2="385.66" y2="50" stroke="#222" stroke-width="0.5" stroke-linecap="butt"/>
<text x="7" y="205.1" font-size="25.5" text-anchor="start" font-weight="bold" fill="#000" stroke="#000" stroke-width="0.3">C</text>
<polyline points="68.90,309.43 69.29,309.43 69.68,309.43 70.07,309.43 70.46,309.43 70.85,309.43 71.24,309.43 71.62,309.43 72.01,309.43 72.40,309.43 72.79,309.43 73.18,309.43 73.57,309.43 73.96,309.43 74.34,309.43 74.73,309.43 75.12,309.43 75.51,309.43 75.90,309.43 76.29,309.43 76.68,309.43 77.07,309.43 77.45,309.43 77.84,309.43 78.23,309.43 78.62,309.43 79.01,309.43 79.40,309.43 79.79,309.43 80.17,309.43 80.56,309.43 80.95,309.43 81.34,309.43 81.73,309.43 82.12,309.43 82.51,309.43 82.90,309.43 83.28,309.43 83.67,309.43 84.06,309.43 84.45,309.43 84.84,309.43 85.23,309.43 85.62,309.43 86.00,309.43 86.39,309.43 86.78,309.43 87.17,309.43 87.56,309.43 87.95,309.43 88.34,309.43 88.73,309.43 89.11,309.43 89.50,309.43 89.89,309.43 90.28,309.43 90.67,309.43 91.06,309.43 91.45,309.43 91.83,309.43 92.22,309.43 92.61,309.43 93.00,309.43 93.39,309.43 93.78,309.43 94.17,309.43 94.56,309.43 94.94,309.43 95.33,309.43 95.72,309.43 96.11,309.43 96.50,309.43 96.89,309.43 97.28,309.43 97.66,309.43 98.05,309.43 98.44,309.43 98.83,309.43 99.22,309.43 99.61,309.43 100.00,309.43 100.39,309.43 100.77,309.43 101.16,309.43 101.55,309.43 101.94,309.43 102.33,309.43 102.72,309.43 103.11,309.43 103.49,309.43 103.88,309.43 104.27,309.43 104.66,309.43 105.05,309.43 105.44,309.43 105.83,309.43 106.22,309.43 106.60,309.43 106.99,309.43 107.38,309.43 107.77,309.43 108.16,309.43 108.55,309.43 108.94,309.43 109.32,309.43 109.71,309.43 110.10,309.43 110.49,309.43 110.88,309.42 111.27,309.42 111.66,309.42 112.05,309.42 112.43,309.42 112.82,309.42 113.21,309.42 113.60,309.42 113.99,309.42 114.38,309.42 114.77,309.42 115.15,309.42 115.54,309.42 115.93,309.42 116.32,309.42 116.71,309.42 117.10,309.42 117.49,309.42 117.88,309.42 118.26,309.42 118.65,309.41 119.04,309.41 119.43,309.41 119.82,309.41 120.21,309.41 120.60,309.41 120.98,309.41 121.37,309.41 121.76,309.41 122.15,309.40 122.54,309.40 122.93,309.40 123.32,309.40 123.71,309.40 124.09,309.39 124.48,309.39 124.87,309.39 125.26,309.39 125.65,309.39 126.04,309.38 126.43,309.38 126.81,309.38 127.20,309.37 127.59,309.37 127.98,309.37 128.37,309.36 128.76,309.36 129.15,309.35 129.54,309.35 129.92,309.34 130.31,309.34 130.70,309.33 131.09,309.33 131.48,309.32 131.87,309.32 132.26,309.31 132.64,309.30 133.03,309.29 133.42,309.29 133.81,309.28 134.20,309.27 134.59,309.26 134.98,309.25 135.37,309.24 135.75,309.22 136.14,309.21 136.53,309.20 136.92,309.19 137.31,309.17 137.70,309.16 138.09,309.14 138.47,309.12 138.86,309.10 139.25,309.08 139.64,309.06 140.03,309.04 140.42,309.02 140.81,309.00 141.20,308.97 141.58,308.94 141.97,308.91 142.36,308.88 142.75,308.85 143.14,308.82 143.53,308.79 143.92,308.75 144.30,308.71 144.69,308.67 145.08,308.63 145.47,308.58 145.86,308.53 146.25,308.49 146.64,308.43 147.03,308.38 147.41,308.32 147.80,308.26 148.19,308.20 148.58,308.14 148.97,308.07 149.36,308.00 149.75,307.92 150.13,307.85 150.52,307.77 150.91,307.68 151.30,307.60 151.69,307.51 152.08,307.42 152.47,307.32 152.86,307.22 153.24,307.12 153.63,307.02 154.02,306.91 154.41,306.80 154.80,306.69 155.19,306.57 155.58,306.45 155.96,306.33 156.35,306.21 156.74,306.08 157.13,305.96 157.52,305.83 157.91,305.70 158.30,305.57 158.69,305.43 159.07,305.30 159.46,305.16 159.85,305.03 160.24,304.89 160.63,304.76 161.02,304.62 161.41,304.49 161.79,304.36 162.18,304.22 162.57,304.09 162.96,303.96 163.35,303.83 163.74,303.71 164.13,303.58 164.52,303.46 164.90,303.34 165.29,303.22 165.68,303.11 166.07,302.99 166.46,302.88 166.85,302.78 167.24,302.67 167.62,302.57 168.01,302.47 168.40,302.38 168.79,302.29 169.18,302.20 169.57,302.11 169.96,302.03 170.35,301.95 170.73,301.88 171.12,301.80 171.51,301.73 171.90,301.67 172.29,301.60 172.68,301.54 173.07,301.48 173.45,301.43 173.84,301.37 174.23,301.32 174.62,301.27 175.01,301.23 175.40,301.18 175.79,301.14 176.18,301.10 176.56,301.06 176.95,301.02 177.34,300.99 177.73,300.96 178.12,300.93 178.51,300.90 178.90,300.87 179.28,300.84 179.67,300.82 180.06,300.79 180.45,300.77 180.84,300.75 181.23,300.73 181.62,300.71 182.01,300.69 182.39,300.67 182.78,300.66 183.17,300.64 183.56,300.63 183.95,300.61 184.34,300.60 184.73,300.59 185.11,300.58 185.50,300.57 185.89,300.56 186.28,300.55 186.67,300.54 187.06,300.53 187.45,300.52 187.84,300.51 188.22,300.51 188.61,300.50 189.00,300.49 189.39,300.49 189.78,300.48 190.17,300.48 190.56,300.47 190.94,300.47 191.33,300.46 191.72,300.46 192.11,300.45 192.50,300.45 192.89,300.45 193.28,300.44 193.67,300.44 194.05,300.44 194.44,300.43 194.83,300.43 195.22,300.43 195.61,300.43 196.00,300.42 196.39,300.42 196.77,300.42 197.16,300.42 197.55,300.42 197.94,300.41 198.33,300.41 198.72,300.41 199.11,300.41 199.50,300.41 199.88,300.41 200.27,300.41 200.66,300.40 201.05,300.40 201.44,300.40 201.83,300.40 202.22,300.40 202.60,300.40 202.99,300.40 203.38,300.40 203.77,300.40 204.16,300.40 204.55,300.40 204.94,300.40 205.33,300.40 205.71,300.40 206.10,300.39 206.49,300.39 206.88,300.39 207.27,300.39 207.66,300.39 208.05,300.39 208.43,300.39 208.82,300.39 209.21,300.39 209.60,300.39 209.99,300.39 210.38,300.39 210.77,300.39 211.16,300.39" fill="none" stroke="#111" stroke-width="1.3" stroke-linejoin="round"/>
<polyline points="68.90,309.43 69.29,309.43 69.68,309.43 70.07,309.43 70.46,309.43 70.85,309.43 71.24,309.43 71.62,309.43 72.01,309.43 72.40,309.43 72.79,309.43 73.18,309.43 73.57,309.43 73.96,309.43 74.34,309.43 74.73,309.43 75.12,309.43 75.51,309.43 75.90,309.43 76.29,309.43 76.68,309.43 77.07,309.43 77.45,309.43 77.84,309.43 78.23,309.43 78.62,309.43 79.01,309.43 79.40,309.43 79.79,309.43 80.17,309.43 80.56,309.43 80.95,309.43 81.34,309.43 81.73,309.43 82.12,309.43 82.51,309.43 82.90,309.43 83.28,309.43 83.67,309.43 84.06,309.43 84.45,309.43 84.84,309.42 85.23,309.42 85.62,309.42 86.00,309.42 86.39,309.42 86.78,309.42 87.17,309.42 87.56,309.42 87.95,309.42 88.34,309.42 88.73,309.42 89.11,309.42 89.50,309.42 89.89,309.42 90.28,309.42 90.67,309.42 91.06,309.42 91.45,309.42 91.83,309.42 92.22,309.42 92.61,309.42 93.00,309.42 93.39,309.42 93.78,309.42 94.17,309.42 94.56,309.42 94.94,309.41 95.33,309.41 95.72,309.41 96.11,309.41 96.50,309.41 96.89,309.41 97.28,309.41 97.66,309.41 98.05,309.41 98.44,309.41 98.83,309.41 99.22,309.40 99.61,309.40 100.00,309.40 100.39,309.40 100.77,309.40 101.16,309.40 101.55,309.40 101.94,309.40 102.33,309.39 102.72,309.39 103.11,309.39 103.49,309.39 103.88,309.39 104.27,309.38 104.66,309.38 105.05,309.38 105.44,309.38 105.83,309.38 106.22,309.37 106.60,309.37 106.99,309.37 107.38,309.36 107.77,309.36 108.16,309.36 108.55,309.35 108.94,309.35 109.32,309.35 109.71,309.34 110.10,309.34 110.49,309.34 110.88,309.33 111.27,309.33 111.66,309.32 112.05,309.32 112.43,309.31 112.82,309.31 113.21,309.30 113.60,309.29 113.99,309.29 114.38,309.28 114.77,309.27 115.15,309.27 115.54,309.26 115.93,309.25 116.32,309.24 116.71,309.23 117.10,309.22 117.49,309.21 117.88,309.20 118.26,309.19 118.65,309.18 119.04,309.17 119.43,309.16 119.82,309.15 120.21,309.13 120.60,309.12 120.98,309.11 121.37,309.09 121.76,309.07 122.15,309.06 122.54,309.04 122.93,309.02 123.32,309.00 123.71,308.98 124.09,308.96 124.48,308.94 124.87,308.92 125.26,308.89 125.65,308.87 126.04,308.84 126.43,308.81 126.81,308.78 127.20,308.75 127.59,308.72 127.98,308.69 128.37,308.66 128.76,308.62 129.15,308.58 129.54,308.54 129.92,308.50 130.31,308.46 130.70,308.41 131.09,308.36 131.48,308.31 131.87,308.26 132.26,308.21 132.64,308.15 133.03,308.09 133.42,308.03 133.81,307.97 134.20,307.90 134.59,307.83 134.98,307.75 135.37,307.67 135.75,307.59 136.14,307.51 136.53,307.42 136.92,307.33 137.31,307.23 137.70,307.13 138.09,307.02 138.47,306.91 138.86,306.80 139.25,306.68 139.64,306.55 140.03,306.42 140.42,306.28 140.81,306.14 141.20,305.99 141.58,305.84 141.97,305.67 142.36,305.50 142.75,305.33 143.14,305.14 143.53,304.95 143.92,304.75 144.30,304.54 144.69,304.32 145.08,304.09 145.47,303.86 145.86,303.61 146.25,303.35 146.64,303.09 147.03,302.81 147.41,302.52 147.80,302.22 148.19,301.90 148.58,301.58 148.97,301.24 149.36,300.89 149.75,300.53 150.13,300.15 150.52,299.75 150.91,299.35 151.30,298.92 151.69,298.49 152.08,298.03 152.47,297.56 152.86,297.07 153.24,296.57 153.63,296.05 154.02,295.51 154.41,294.96 154.80,294.38 155.19,293.79 155.58,293.18 155.96,292.55 156.35,291.90 156.74,291.23 157.13,290.55 157.52,289.84 157.91,289.11 158.30,288.37 158.69,287.61 159.07,286.82 159.46,286.02 159.85,285.20 160.24,284.36 160.63,283.50 161.02,282.62 161.41,281.73 161.79,280.81 162.18,279.88 162.57,278.94 162.96,277.98 163.35,277.00 163.74,276.01 164.13,275.01 164.52,273.99 164.90,272.96 165.29,271.92 165.68,270.87 166.07,269.81 166.46,268.75 166.85,267.67 167.24,266.59 167.62,265.51 168.01,264.42 168.40,263.33 168.79,262.24 169.18,261.14 169.57,260.05 169.96,258.96 170.35,257.87 170.73,256.79 171.12,255.71 171.51,254.64 171.90,253.58 172.29,252.53 172.68,251.48 173.07,250.45 173.45,249.42 173.84,248.41 174.23,247.41 174.62,246.43 175.01,245.46 175.40,244.51 175.79,243.57 176.18,242.65 176.56,241.75 176.95,240.86 177.34,239.99 177.73,239.14 178.12,238.31 178.51,237.50 178.90,236.71 179.28,235.93 179.67,235.18 180.06,234.44 180.45,233.73 180.84,233.03 181.23,232.35 181.62,231.69 182.01,231.05 182.39,230.43 182.78,229.83 183.17,229.25 183.56,228.68 183.95,228.14 184.34,227.61 184.73,227.09 185.11,226.60 185.50,226.12 185.89,225.66 186.28,225.21 186.67,224.78 187.06,224.37 187.45,223.97 187.84,223.58 188.22,223.21 188.61,222.85 189.00,222.51 189.39,222.17 189.78,221.85 190.17,221.55 190.56,221.25 190.94,220.97 191.33,220.70 191.72,220.43 192.11,220.18 192.50,219.94 192.89,219.71 193.28,219.49 193.67,219.27 194.05,219.07 194.44,218.87 194.83,218.68 195.22,218.50 195.61,218.33 196.00,218.16 196.39,218.00 196.77,217.85 197.16,217.70 197.55,217.56 197.94,217.43 198.33,217.30 198.72,217.18 199.11,217.06 199.50,216.95 199.88,216.84 200.27,216.73 200.66,216.64 201.05,216.54 201.44,216.45 201.83,216.36 202.22,216.28 202.60,216.20 202.99,216.13 203.38,216.05 203.77,215.98 204.16,215.92 204.55,215.85 204.94,215.79 205.33,215.73 205.71,215.68 206.10,215.63 206.49,215.58 206.88,215.53 207.27,215.48 207.66,215.44 208.05,215.39 208.43,215.35 208.82,215.31 209.21,215.28 209.60,215.24 209.99,215.21 210.38,215.18 210.77,215.14 211.16,215.12" fill="none" stroke="#ff0000" stroke-width="1.3" stroke-linejoin="round"/>
<rect x="66.48" y="307.03" width="4.8" height="4.8" fill="#111"/>
<rect x="72.33" y="307.03" width="4.8" height="4.8" fill="#111"/>
<rect x="85.92" y="307.03" width="4.8" height="4.8" fill="#111"/>
<rect x="91.77" y="307.03" width="4.8" height="4.8" fill="#111"/>
<rect x="105.35" y="307.03" width="4.8" height="4.8" fill="#111"/>
<rect x="111.2" y="307.03" width="4.8" height="4.8" fill="#111"/>
<rect x="124.78" y="307.03" width="4.8" height="4.8" fill="#111"/>
<rect x="130.63" y="306.8" width="4.8" height="4.8" fill="#111"/>
<rect x="144.22" y="305.67" width="4.8" height="4.8" fill="#111"/>
<rect x="150.07" y="304.39" width="4.8" height="4.8" fill="#111"/>
<rect x="163.65" y="301" width="4.8" height="4.8" fill="#111"/>
<rect x="169.5" y="299.87" width="4.8" height="4.8" fill="#111"/>
<rect x="183.08" y="298.74" width="4.8" height="4.8" fill="#111"/>
<rect x="188.93" y="298.74" width="4.8" height="4.8" fill="#111"/>
<rect x="202.52" y="298.21" width="4.8" height="4.8" fill="#111"/>
<rect x="208.37" y="297.84" width="4.8" height="4.8" fill="#111"/>
<circle cx="68.88" cy="309.43" r="2.8" fill="#ff0000"/>
<circle cx="74.73" cy="309.43" r="2.8" fill="#ff0000"/>
<circle cx="88.32" cy="309.43" r="2.8" fill="#ff0000"/>
<circle cx="94.17" cy="309.43" r="2.8" fill="#ff0000"/>
<circle cx="107.75" cy="309.43" r="2.8" fill="#ff0000"/>
<circle cx="113.60" cy="309.43" r="2.8" fill="#ff0000"/>
<circle cx="127.18" cy="309.20" r="2.8" fill="#ff0000"/>
<circle cx="133.03" cy="308.30" r="2.8" fill="#ff0000"/>
<circle cx="146.62" cy="302.65" r="2.8" fill="#ff0000"/>
<circle cx="152.47" cy="298.50" r="2.8" fill="#ff0000"/>
<line x1="166.05" y1="267.23" x2="166.05" y2="271.75" stroke="#ff0000" stroke-width="1.0" stroke-linecap="butt"/>
<line x1="164.25" y1="267.23" x2="167.85" y2="267.23" stroke="#ff0000" stroke-width="1.0" stroke-linecap="butt"/>
<line x1="164.25" y1="271.75" x2="167.85" y2="271.75" stroke="#ff0000" stroke-width="1.0" stroke-linecap="butt"/>
<circle cx="166.05" cy="269.49" r="2.8" fill="#ff0000"/>
<line x1="171.9" y1="249.15" x2="171.9" y2="256.68" stroke="#ff0000" stroke-width="1.0" stroke-linecap="butt"/>
<line x1="170.1" y1="249.15" x2="173.7" y2="249.15" stroke="#ff0000" stroke-width="1.0" stroke-linecap="butt"/>
<line x1="170.1" y1="256.68" x2="173.7" y2="256.68" stroke="#ff0000" stroke-width="1.0" stroke-linecap="butt"/>
<circle cx="171.90" cy="252.91" r="2.8" fill="#ff0000"/>
<line x1="185.48" y1="225.79" x2="185.48" y2="234.83" stroke="#ff0000" stroke-width="1.0" stroke-linecap="butt"/>
<line x1="183.68" y1="225.79" x2="187.28" y2="225.79" stroke="#ff0000" stroke-width="1.0" stroke-linecap="butt"/>
<line x1="183.68" y1="234.83" x2="187.28" y2="234.83" stroke="#ff0000" stroke-width="1.0" stroke-linecap="butt"/>
<circle cx="185.48" cy="230.31" r="2.8" fill="#ff0000"/>
<line x1="191.33" y1="221.64" x2="191.33" y2="229.18" stroke="#ff0000" stroke-width="1.0" stroke-linecap="butt"/>
<line x1="189.53" y1="221.64" x2="193.13" y2="221.64" stroke="#ff0000" stroke-width="1.0" stroke-linecap="butt"/>
<line x1="189.53" y1="229.18" x2="193.13" y2="229.18" stroke="#ff0000" stroke-width="1.0" stroke-linecap="butt"/>
<circle cx="191.33" cy="225.41" r="2.8" fill="#ff0000"/>
<line x1="204.92" y1="215.62" x2="204.92" y2="224.66" stroke="#ff0000" stroke-width="1.0" stroke-linecap="butt"/>
<line x1="203.12" y1="215.62" x2="206.72" y2="215.62" stroke="#ff0000" stroke-width="1.0" stroke-linecap="butt"/>
<line x1="203.12" y1="224.66" x2="206.72" y2="224.66" stroke="#ff0000" stroke-width="1.0" stroke-linecap="butt"/>
<circle cx="204.92" cy="220.14" r="2.8" fill="#ff0000"/>
<line x1="210.77" y1="211.47" x2="210.77" y2="222.02" stroke="#ff0000" stroke-width="1.0" stroke-linecap="butt"/>
<line x1="208.97" y1="211.47" x2="212.57" y2="211.47" stroke="#ff0000" stroke-width="1.0" stroke-linecap="butt"/>
<line x1="208.97" y1="222.02" x2="212.57" y2="222.02" stroke="#ff0000" stroke-width="1.0" stroke-linecap="butt"/>
<circle cx="210.77" cy="216.75" r="2.8" fill="#ff0000"/>
<rect x="55.3" y="196.4" width="174.9" height="128.1" fill="none" stroke="#000" stroke-width="1.3"/>
<line x1="52.3" y1="309.43" x2="55.3" y2="309.43" stroke="#111" stroke-width="1.3" stroke-linecap="butt"/>
<text x="50.1" y="312.36" font-size="9.4" text-anchor="end" font-weight="bold" fill="#000" stroke="#000" stroke-width="0.2">0</text>
<line x1="52.3" y1="286.82" x2="55.3" y2="286.82" stroke="#111" stroke-width="1.3" stroke-linecap="butt"/>
<text x="50.1" y="289.76" font-size="9.4" text-anchor="end" font-weight="bold" fill="#000" stroke="#000" stroke-width="0.2">30</text>
<line x1="52.3" y1="264.22" x2="55.3" y2="264.22" stroke="#111" stroke-width="1.3" stroke-linecap="butt"/>
<text x="50.1" y="267.15" font-size="9.4" text-anchor="end" font-weight="bold" fill="#000" stroke="#000" stroke-width="0.2">60</text>
<line x1="52.3" y1="241.61" x2="55.3" y2="241.61" stroke="#111" stroke-width="1.3" stroke-linecap="butt"/>
<text x="50.1" y="244.55" font-size="9.4" text-anchor="end" font-weight="bold" fill="#000" stroke="#000" stroke-width="0.2">90</text>
<line x1="52.3" y1="219.01" x2="55.3" y2="219.01" stroke="#111" stroke-width="1.3" stroke-linecap="butt"/>
<text x="50.1" y="221.94" font-size="9.4" text-anchor="end" font-weight="bold" fill="#000" stroke="#000" stroke-width="0.2">120</text>
<line x1="52.3" y1="196.4" x2="55.3" y2="196.4" stroke="#111" stroke-width="1.3" stroke-linecap="butt"/>
<text x="50.1" y="199.33" font-size="9.4" text-anchor="end" font-weight="bold" fill="#000" stroke="#000" stroke-width="0.2">150</text>
<line x1="53.5" y1="320.73" x2="55.3" y2="320.73" stroke="#111" stroke-width="1.3" stroke-linecap="butt"/>
<line x1="53.5" y1="298.13" x2="55.3" y2="298.13" stroke="#111" stroke-width="1.3" stroke-linecap="butt"/>
<line x1="53.5" y1="275.52" x2="55.3" y2="275.52" stroke="#111" stroke-width="1.3" stroke-linecap="butt"/>
<line x1="53.5" y1="252.91" x2="55.3" y2="252.91" stroke="#111" stroke-width="1.3" stroke-linecap="butt"/>
<line x1="53.5" y1="230.31" x2="55.3" y2="230.31" stroke="#111" stroke-width="1.3" stroke-linecap="butt"/>
<line x1="53.5" y1="207.7" x2="55.3" y2="207.7" stroke="#111" stroke-width="1.3" stroke-linecap="butt"/>
<line x1="55.3" y1="324.5" x2="55.3" y2="327.5" stroke="#111" stroke-width="1.3" stroke-linecap="butt"/>
<line x1="61.15" y1="324.5" x2="61.15" y2="325.9" stroke="#111" stroke-width="0.8" stroke-linecap="butt"/>
<line x1="64.57" y1="324.5" x2="64.57" y2="325.9" stroke="#111" stroke-width="0.8" stroke-linecap="butt"/>
<line x1="67" y1="324.5" x2="67" y2="325.9" stroke="#111" stroke-width="0.8" stroke-linecap="butt"/>
<line x1="68.88" y1="324.5" x2="68.88" y2="325.9" stroke="#111" stroke-width="0.8" stroke-linecap="butt"/>
<line x1="70.42" y1="324.5" x2="70.42" y2="325.9" stroke="#111" stroke-width="0.8" stroke-linecap="butt"/>
<line x1="71.72" y1="324.5" x2="71.72" y2="325.9" stroke="#111" stroke-width="0.8" stroke-linecap="butt"/>
<line x1="72.85" y1="324.5" x2="72.85" y2="325.9" stroke="#111" stroke-width="0.8" stroke-linecap="butt"/>
<line x1="73.84" y1="324.5" x2="73.84" y2="325.9" stroke="#111" stroke-width="0.8" stroke-linecap="butt"/>
<text transform="translate(47.70,338.9) scale(0.82,1)" font-size="10.2" font-weight="bold" stroke="#000" stroke-width="0.15">10<tspan font-size="5.4" dy="-4.6" stroke-width="0">-8</tspan></text>
<line x1="74.73" y1="324.5" x2="74.73" y2="327.5" stroke="#111" stroke-width="1.3" stroke-linecap="butt"/>
<line x1="80.58" y1="324.5" x2="80.58" y2="325.9" stroke="#111" stroke-width="0.8" stroke-linecap="butt"/>
<line x1="84.01" y1="324.5" x2="84.01" y2="325.9" stroke="#111" stroke-width="0.8" stroke-linecap="butt"/>
<line x1="86.43" y1="324.5" x2="86.43" y2="325.9" stroke="#111" stroke-width="0.8" stroke-linecap="butt"/>
<line x1="88.32" y1="324.5" x2="88.32" y2="325.9" stroke="#111" stroke-width="0.8" stroke-linecap="butt"/>
<line x1="89.86" y1="324.5" x2="89.86" y2="325.9" stroke="#111" stroke-width="0.8" stroke-linecap="butt"/>
<line x1="91.16" y1="324.5" x2="91.16" y2="325.9" stroke="#111" stroke-width="0.8" stroke-linecap="butt"/>
<line x1="92.28" y1="324.5" x2="92.28" y2="325.9" stroke="#111" stroke-width="0.8" stroke-linecap="butt"/>
<line x1="93.28" y1="324.5" x2="93.28" y2="325.9" stroke="#111" stroke-width="0.8" stroke-linecap="butt"/>
<text transform="translate(67.13,338.9) scale(0.82,1)" font-size="10.2" font-weight="bold" stroke="#000" stroke-width="0.15">10<tspan font-size="5.4" dy="-4.6" stroke-width="0">-7</tspan></text>
<line x1="94.17" y1="324.5" x2="94.17" y2="327.5" stroke="#111" stroke-width="1.3" stroke-linecap="butt"/>
<line x1="100.02" y1="324.5" x2="100.02" y2="325.9" stroke="#111" stroke-width="0.8" stroke-linecap="butt"/>
<line x1="103.44" y1="324.5" x2="103.44" y2="325.9" stroke="#111" stroke-width="0.8" stroke-linecap="butt"/>
<line x1="105.87" y1="324.5" x2="105.87" y2="325.9" stroke="#111" stroke-width="0.8" stroke-linecap="butt"/>
<line x1="107.75" y1="324.5" x2="107.75" y2="325.9" stroke="#111" stroke-width="0.8" stroke-linecap="butt"/>
<line x1="109.29" y1="324.5" x2="109.29" y2="325.9" stroke="#111" stroke-width="0.8" stroke-linecap="butt"/>
<line x1="110.59" y1="324.5" x2="110.59" y2="325.9" stroke="#111" stroke-width="0.8" stroke-linecap="butt"/>
<line x1="111.72" y1="324.5" x2="111.72" y2="325.9" stroke="#111" stroke-width="0.8" stroke-linecap="butt"/>
<line x1="112.71" y1="324.5" x2="112.71" y2="325.9" stroke="#111" stroke-width="0.8" stroke-linecap="butt"/>
<text transform="translate(86.57,338.9) scale(0.82,1)" font-size="10.2" font-weight="bold" stroke="#000" stroke-width="0.15">10<tspan font-size="5.4" dy="-4.6" stroke-width="0">-6</tspan></text>
<line x1="113.6" y1="324.5" x2="113.6" y2="327.5" stroke="#111" stroke-width="1.3" stroke-linecap="butt"/>
<line x1="119.45" y1="324.5" x2="119.45" y2="325.9" stroke="#111" stroke-width="0.8" stroke-linecap="butt"/>
<line x1="122.87" y1="324.5" x2="122.87" y2="325.9" stroke="#111" stroke-width="0.8" stroke-linecap="butt"/>
<line x1="125.3" y1="324.5" x2="125.3" y2="325.9" stroke="#111" stroke-width="0.8" stroke-linecap="butt"/>
<line x1="127.18" y1="324.5" x2="127.18" y2="325.9" stroke="#111" stroke-width="0.8" stroke-linecap="butt"/>
<line x1="128.72" y1="324.5" x2="128.72" y2="325.9" stroke="#111" stroke-width="0.8" stroke-linecap="butt"/>
<line x1="130.02" y1="324.5" x2="130.02" y2="325.9" stroke="#111" stroke-width="0.8" stroke-linecap="butt"/>
<line x1="131.15" y1="324.5" x2="131.15" y2="325.9" stroke="#111" stroke-width="0.8" stroke-linecap="butt"/>
<line x1="132.14" y1="324.5" x2="132.14" y2="325.9" stroke="#111" stroke-width="0.8" stroke-linecap="butt"/>
<text transform="translate(106.00,338.9) scale(0.82,1)" font-size="10.2" font-weight="bold" stroke="#000" stroke-width="0.15">10<tspan font-size="5.4" dy="-4.6" stroke-width="0">-5</tspan></text>
<line x1="133.03" y1="324.5" x2="133.03" y2="327.5" stroke="#111" stroke-width="1.3" stroke-linecap="butt"/>
<line x1="138.88" y1="324.5" x2="138.88" y2="325.9" stroke="#111" stroke-width="0.8" stroke-linecap="butt"/>
<line x1="142.31" y1="324.5" x2="142.31" y2="325.9" stroke="#111" stroke-width="0.8" stroke-linecap="butt"/>
<line x1="144.73" y1="324.5" x2="144.73" y2="325.9" stroke="#111" stroke-width="0.8" stroke-linecap="butt"/>
<line x1="146.62" y1="324.5" x2="146.62" y2="325.9" stroke="#111" stroke-width="0.8" stroke-linecap="butt"/>
<line x1="148.16" y1="324.5" x2="148.16" y2="325.9" stroke="#111" stroke-width="0.8" stroke-linecap="butt"/>
<line x1="149.46" y1="324.5" x2="149.46" y2="325.9" stroke="#111" stroke-width="0.8" stroke-linecap="butt"/>
<line x1="150.58" y1="324.5" x2="150.58" y2="325.9" stroke="#111" stroke-width="0.8" stroke-linecap="butt"/>
<line x1="151.58" y1="324.5" x2="151.58" y2="325.9" stroke="#111" stroke-width="0.8" stroke-linecap="butt"/>
<text transform="translate(125.43,338.9) scale(0.82,1)" font-size="10.2" font-weight="bold" stroke="#000" stroke-width="0.15">10<tspan font-size="5.4" dy="-4.6" stroke-width="0">-4</tspan></text>
<line x1="152.47" y1="324.5" x2="152.47" y2="327.5" stroke="#111" stroke-width="1.3" stroke-linecap="butt"/>
<line x1="158.32" y1="324.5" x2="158.32" y2="325.9" stroke="#111" stroke-width="0.8" stroke-linecap="butt"/>
<line x1="161.74" y1="324.5" x2="161.74" y2="325.9" stroke="#111" stroke-width="0.8" stroke-linecap="butt"/>
<line x1="164.17" y1="324.5" x2="164.17" y2="325.9" stroke="#111" stroke-width="0.8" stroke-linecap="butt"/>
<line x1="166.05" y1="324.5" x2="166.05" y2="325.9" stroke="#111" stroke-width="0.8" stroke-linecap="butt"/>
<line x1="167.59" y1="324.5" x2="167.59" y2="325.9" stroke="#111" stroke-width="0.8" stroke-linecap="butt"/>
<line x1="168.89" y1="324.5" x2="168.89" y2="325.9" stroke="#111" stroke-width="0.8" stroke-linecap="butt"/>
<line x1="170.02" y1="324.5" x2="170.02" y2="325.9" stroke="#111" stroke-width="0.8" stroke-linecap="butt"/>
<line x1="171.01" y1="324.5" x2="171.01" y2="325.9" stroke="#111" stroke-width="0.8" stroke-linecap="butt"/>
<text transform="translate(144.87,338.9) scale(0.82,1)" font-size="10.2" font-weight="bold" stroke="#000" stroke-width="0.15">10<tspan font-size="5.4" dy="-4.6" stroke-width="0">-3</tspan></text>
<line x1="171.9" y1="324.5" x2="171.9" y2="327.5" stroke="#111" stroke-width="1.3" stroke-linecap="butt"/>
<line x1="177.75" y1="324.5" x2="177.75" y2="325.9" stroke="#111" stroke-width="0.8" stroke-linecap="butt"/>
<line x1="181.17" y1="324.5" x2="181.17" y2="325.9" stroke="#111" stroke-width="0.8" stroke-linecap="butt"/>
<line x1="183.6" y1="324.5" x2="183.6" y2="325.9" stroke="#111" stroke-width="0.8" stroke-linecap="butt"/>
<line x1="185.48" y1="324.5" x2="185.48" y2="325.9" stroke="#111" stroke-width="0.8" stroke-linecap="butt"/>
<line x1="187.02" y1="324.5" x2="187.02" y2="325.9" stroke="#111" stroke-width="0.8" stroke-linecap="butt"/>
<line x1="188.32" y1="324.5" x2="188.32" y2="325.9" stroke="#111" stroke-width="0.8" stroke-linecap="butt"/>
<line x1="189.45" y1="324.5" x2="189.45" y2="325.9" stroke="#111" stroke-width="0.8" stroke-linecap="butt"/>
<line x1="190.44" y1="324.5" x2="190.44" y2="325.9" stroke="#111" stroke-width="0.8" stroke-linecap="butt"/>
<text transform="translate(164.30,338.9) scale(0.82,1)" font-size="10.2" font-weight="bold" stroke="#000" stroke-width="0.15">10<tspan font-size="5.4" dy="-4.6" stroke-width="0">-2</tspan></text>
<line x1="191.33" y1="324.5" x2="191.33" y2="327.5" stroke="#111" stroke-width="1.3" stroke-linecap="butt"/>
<line x1="197.18" y1="324.5" x2="197.18" y2="325.9" stroke="#111" stroke-width="0.8" stroke-linecap="butt"/>
<line x1="200.61" y1="324.5" x2="200.61" y2="325.9" stroke="#111" stroke-width="0.8" stroke-linecap="butt"/>
<line x1="203.03" y1="324.5" x2="203.03" y2="325.9" stroke="#111" stroke-width="0.8" stroke-linecap="butt"/>
<line x1="204.92" y1="324.5" x2="204.92" y2="325.9" stroke="#111" stroke-width="0.8" stroke-linecap="butt"/>
<line x1="206.46" y1="324.5" x2="206.46" y2="325.9" stroke="#111" stroke-width="0.8" stroke-linecap="butt"/>
<line x1="207.76" y1="324.5" x2="207.76" y2="325.9" stroke="#111" stroke-width="0.8" stroke-linecap="butt"/>
<line x1="208.88" y1="324.5" x2="208.88" y2="325.9" stroke="#111" stroke-width="0.8" stroke-linecap="butt"/>
<line x1="209.88" y1="324.5" x2="209.88" y2="325.9" stroke="#111" stroke-width="0.8" stroke-linecap="butt"/>
<text transform="translate(183.73,338.9) scale(0.82,1)" font-size="10.2" font-weight="bold" stroke="#000" stroke-width="0.15">10<tspan font-size="5.4" dy="-4.6" stroke-width="0">-1</tspan></text>
<line x1="210.77" y1="324.5" x2="210.77" y2="327.5" stroke="#111" stroke-width="1.3" stroke-linecap="butt"/>
<line x1="216.62" y1="324.5" x2="216.62" y2="325.9" stroke="#111" stroke-width="0.8" stroke-linecap="butt"/>
<line x1="220.04" y1="324.5" x2="220.04" y2="325.9" stroke="#111" stroke-width="0.8" stroke-linecap="butt"/>
<line x1="222.47" y1="324.5" x2="222.47" y2="325.9" stroke="#111" stroke-width="0.8" stroke-linecap="butt"/>
<line x1="224.35" y1="324.5" x2="224.35" y2="325.9" stroke="#111" stroke-width="0.8" stroke-linecap="butt"/>
<line x1="225.89" y1="324.5" x2="225.89" y2="325.9" stroke="#111" stroke-width="0.8" stroke-linecap="butt"/>
<line x1="227.19" y1="324.5" x2="227.19" y2="325.9" stroke="#111" stroke-width="0.8" stroke-linecap="butt"/>
<line x1="228.32" y1="324.5" x2="228.32" y2="325.9" stroke="#111" stroke-width="0.8" stroke-linecap="butt"/>
<line x1="229.31" y1="324.5" x2="229.31" y2="325.9" stroke="#111" stroke-width="0.8" stroke-linecap="butt"/>
<text transform="translate(203.17,338.9) scale(0.82,1)" font-size="10.2" font-weight="bold" stroke="#000" stroke-width="0.15">10<tspan font-size="5.4" dy="-4.6" stroke-width="0">0</tspan></text>
<line x1="230.2" y1="324.5" x2="230.2" y2="327.5" stroke="#111" stroke-width="1.3" stroke-linecap="butt"/>
<text transform="translate(222.60,338.9) scale(0.82,1)" font-size="10.2" font-weight="bold" stroke="#000" stroke-width="0.15">10<tspan font-size="5.4" dy="-4.6" stroke-width="0">1</tspan></text>
<text x="142.3" y="351.3" font-size="12.4" text-anchor="middle" font-weight="bold" fill="#000" stroke="#000" stroke-width="0.25">Concentration / M</text>
<text transform="translate(26.7,268) rotate(-90)" font-size="12.4" text-anchor="middle" font-weight="bold" stroke="#000" stroke-width="0.25">Current / µA</text>
<circle cx="63.9" cy="204.8" r="2.6" fill="#ff0000"/>
<rect x="61.5" y="211.6" width="4.8" height="4.8" fill="#111"/>
<text x="73" y="206.85" font-size="7.4" text-anchor="start" font-weight="bold" fill="#000">PtNP CNT film</text>
<text x="73" y="216.05" font-size="7.4" text-anchor="start" font-weight="bold" fill="#000">bare CNT film</text>
<text x="237.2" y="204.7" font-size="25.5" text-anchor="start" font-weight="bold" fill="#000" stroke="#000" stroke-width="0.3">D</text>
<rect x="297.17" y="208.18" width="20.3" height="116.82" fill="#ff0000"/>
<rect x="322.21" y="315.89" width="20.3" height="9.11" fill="#ff0000"/>
<rect x="347.26" y="312.85" width="20.3" height="12.15" fill="#ff0000"/>
<rect x="372.3" y="299.18" width="20.3" height="25.82" fill="#ff0000"/>
<rect x="397.34" y="313.67" width="20.3" height="11.33" fill="#ff0000"/>
<rect x="422.39" y="297.31" width="20.3" height="27.69" fill="#ff0000"/>
<rect x="447.43" y="312.15" width="20.3" height="12.85" fill="#ff0000"/>
<rect x="294.8" y="196.5" width="175.3" height="128.5" fill="none" stroke="#000" stroke-width="1.3"/>
<line x1="291.8" y1="325" x2="294.8" y2="325" stroke="#111" stroke-width="1.3" stroke-linecap="butt"/>
<text x="289.6" y="327.93" font-size="9.4" text-anchor="end" font-weight="bold" fill="#000" stroke="#000" stroke-width="0.2">0</text>
<line x1="291.8" y1="301.64" x2="294.8" y2="301.64" stroke="#111" stroke-width="1.3" stroke-linecap="butt"/>
<text x="289.6" y="304.57" font-size="9.4" text-anchor="end" font-weight="bold" fill="#000" stroke="#000" stroke-width="0.2">20</text>
<line x1="291.8" y1="278.27" x2="294.8" y2="278.27" stroke="#111" stroke-width="1.3" stroke-linecap="butt"/>
<text x="289.6" y="281.21" font-size="9.4" text-anchor="end" font-weight="bold" fill="#000" stroke="#000" stroke-width="0.2">40</text>
<line x1="291.8" y1="254.91" x2="294.8" y2="254.91" stroke="#111" stroke-width="1.3" stroke-linecap="butt"/>
<text x="289.6" y="257.84" font-size="9.4" text-anchor="end" font-weight="bold" fill="#000" stroke="#000" stroke-width="0.2">60</text>
<line x1="291.8" y1="231.55" x2="294.8" y2="231.55" stroke="#111" stroke-width="1.3" stroke-linecap="butt"/>
<text x="289.6" y="234.48" font-size="9.4" text-anchor="end" font-weight="bold" fill="#000" stroke="#000" stroke-width="0.2">80</text>
<line x1="291.8" y1="208.18" x2="294.8" y2="208.18" stroke="#111" stroke-width="1.3" stroke-linecap="butt"/>
<text x="289.6" y="211.12" font-size="9.4" text-anchor="end" font-weight="bold" fill="#000" stroke="#000" stroke-width="0.2">100</text>
<line x1="293" y1="313.32" x2="294.8" y2="313.32" stroke="#111" stroke-width="1.3" stroke-linecap="butt"/>
<line x1="293" y1="289.95" x2="294.8" y2="289.95" stroke="#111" stroke-width="1.3" stroke-linecap="butt"/>
<line x1="293" y1="266.59" x2="294.8" y2="266.59" stroke="#111" stroke-width="1.3" stroke-linecap="butt"/>
<line x1="293" y1="243.23" x2="294.8" y2="243.23" stroke="#111" stroke-width="1.3" stroke-linecap="butt"/>
<line x1="293" y1="219.86" x2="294.8" y2="219.86" stroke="#111" stroke-width="1.3" stroke-linecap="butt"/>
<line x1="307.32" y1="325" x2="307.32" y2="328" stroke="#111" stroke-width="1.3" stroke-linecap="butt"/>
<text transform="translate(311.12,331.40) rotate(-45)" font-size="6.8" text-anchor="end" font-weight="bold"><tspan font-size="7.2">H</tspan><tspan font-size="5.4" dy="2.6">2</tspan><tspan font-size="7.2" dy="-2.6">O</tspan><tspan font-size="5.4" dy="2.6">2</tspan></text>
<line x1="332.36" y1="325" x2="332.36" y2="328" stroke="#111" stroke-width="1.3" stroke-linecap="butt"/>
<text transform="translate(334.16,332.00) rotate(-45)" font-size="6.8" text-anchor="end" font-weight="bold">Cysteine</text>
<line x1="357.41" y1="325" x2="357.41" y2="328" stroke="#111" stroke-width="1.3" stroke-linecap="butt"/>
<text transform="translate(359.21,332.00) rotate(-45)" font-size="6.8" text-anchor="end" font-weight="bold">Acetamidophenol</text>
<line x1="382.45" y1="325" x2="382.45" y2="328" stroke="#111" stroke-width="1.3" stroke-linecap="butt"/>
<text transform="translate(385.25,332.40) rotate(-45)" font-size="6.8" text-anchor="end" font-weight="bold">Glutamic acid</text>
<line x1="407.49" y1="325" x2="407.49" y2="328" stroke="#111" stroke-width="1.3" stroke-linecap="butt"/>
<text transform="translate(410.29,332.40) rotate(-45)" font-size="6.8" text-anchor="end" font-weight="bold">Dopamine</text>
<line x1="432.54" y1="325" x2="432.54" y2="328" stroke="#111" stroke-width="1.3" stroke-linecap="butt"/>
<text transform="translate(434.74,332.20) rotate(-45)" font-size="6.8" text-anchor="end" font-weight="bold">Ascorbic acid</text>
<line x1="457.58" y1="325" x2="457.58" y2="328" stroke="#111" stroke-width="1.3" stroke-linecap="butt"/>
<text transform="translate(462.08,332.40) rotate(-45)" font-size="6.8" text-anchor="end" font-weight="bold">Uric acid</text>
<line x1="294.8" y1="325" x2="294.8" y2="326.8" stroke="#111" stroke-width="1.3" stroke-linecap="butt"/>
<line x1="319.84" y1="325" x2="319.84" y2="326.8" stroke="#111" stroke-width="1.3" stroke-linecap="butt"/>
<line x1="344.89" y1="325" x2="344.89" y2="326.8" stroke="#111" stroke-width="1.3" stroke-linecap="butt"/>
<line x1="369.93" y1="325" x2="369.93" y2="326.8" stroke="#111" stroke-width="1.3" stroke-linecap="butt"/>
<line x1="394.97" y1="325" x2="394.97" y2="326.8" stroke="#111" stroke-width="1.3" stroke-linecap="butt"/>
<line x1="420.01" y1="325" x2="420.01" y2="326.8" stroke="#111" stroke-width="1.3" stroke-linecap="butt"/>
<line x1="445.06" y1="325" x2="445.06" y2="326.8" stroke="#111" stroke-width="1.3" stroke-linecap="butt"/>
<line x1="470.1" y1="325" x2="470.1" y2="326.8" stroke="#111" stroke-width="1.3" stroke-linecap="butt"/>
<text transform="translate(267,268.5) rotate(-90)" font-size="12.4" text-anchor="middle" font-weight="bold" stroke="#000" stroke-width="0.25">Signal / %</text>
<text x="6.8" y="383.4" font-size="25.5" text-anchor="start" font-weight="bold" fill="#000" stroke="#000" stroke-width="0.3">E</text>
<rect x="58.93" y="409.66" width="28.2" height="102.64" fill="#ff0000" stroke="#111" stroke-width="1"/>
<rect x="93.99" y="407.81" width="28.2" height="104.49" fill="#ff0000" stroke="#111" stroke-width="1"/>
<rect x="129.05" y="408.12" width="28.2" height="104.18" fill="#ff0000" stroke="#111" stroke-width="1"/>
<rect x="164.11" y="409.25" width="28.2" height="103.05" fill="#ff0000" stroke="#111" stroke-width="1"/>
<rect x="199.17" y="408.22" width="28.2" height="104.08" fill="#ff0000" stroke="#111" stroke-width="1"/>
<rect x="55.5" y="384" width="175.3" height="128.3" fill="none" stroke="#000" stroke-width="1.3"/>
<line x1="52.5" y1="512.3" x2="55.5" y2="512.3" stroke="#111" stroke-width="1.3" stroke-linecap="butt"/>
<text x="50.3" y="515.23" font-size="9.4" text-anchor="end" font-weight="bold" fill="#000" stroke="#000" stroke-width="0.2">0</text>
<line x1="52.5" y1="486.64" x2="55.5" y2="486.64" stroke="#111" stroke-width="1.3" stroke-linecap="butt"/>
<text x="50.3" y="489.57" font-size="9.4" text-anchor="end" font-weight="bold" fill="#000" stroke="#000" stroke-width="0.2">25</text>
<line x1="52.5" y1="460.98" x2="55.5" y2="460.98" stroke="#111" stroke-width="1.3" stroke-linecap="butt"/>
<text x="50.3" y="463.91" font-size="9.4" text-anchor="end" font-weight="bold" fill="#000" stroke="#000" stroke-width="0.2">50</text>
<line x1="52.5" y1="435.32" x2="55.5" y2="435.32" stroke="#111" stroke-width="1.3" stroke-linecap="butt"/>
<text x="50.3" y="438.25" font-size="9.4" text-anchor="end" font-weight="bold" fill="#000" stroke="#000" stroke-width="0.2">75</text>
<line x1="52.5" y1="409.66" x2="55.5" y2="409.66" stroke="#111" stroke-width="1.3" stroke-linecap="butt"/>
<text x="50.3" y="412.59" font-size="9.4" text-anchor="end" font-weight="bold" fill="#000" stroke="#000" stroke-width="0.2">100</text>
<line x1="52.5" y1="384" x2="55.5" y2="384" stroke="#111" stroke-width="1.3" stroke-linecap="butt"/>
<text x="50.3" y="386.93" font-size="9.4" text-anchor="end" font-weight="bold" fill="#000" stroke="#000" stroke-width="0.2">125</text>
<line x1="53.7" y1="499.47" x2="55.5" y2="499.47" stroke="#111" stroke-width="1.3" stroke-linecap="butt"/>
<line x1="53.7" y1="473.81" x2="55.5" y2="473.81" stroke="#111" stroke-width="1.3" stroke-linecap="butt"/>
<line x1="53.7" y1="448.15" x2="55.5" y2="448.15" stroke="#111" stroke-width="1.3" stroke-linecap="butt"/>
<line x1="53.7" y1="422.49" x2="55.5" y2="422.49" stroke="#111" stroke-width="1.3" stroke-linecap="butt"/>
<line x1="53.7" y1="396.83" x2="55.5" y2="396.83" stroke="#111" stroke-width="1.3" stroke-linecap="butt"/>
<line x1="73.03" y1="512.3" x2="73.03" y2="515.3" stroke="#111" stroke-width="1.3" stroke-linecap="butt"/>
<text x="73.03" y="524.53" font-size="9.4" text-anchor="middle" font-weight="bold" fill="#000" stroke="#000" stroke-width="0.2">1</text>
<line x1="108.09" y1="512.3" x2="108.09" y2="515.3" stroke="#111" stroke-width="1.3" stroke-linecap="butt"/>
<text x="108.09" y="524.53" font-size="9.4" text-anchor="middle" font-weight="bold" fill="#000" stroke="#000" stroke-width="0.2">2</text>
<line x1="143.15" y1="512.3" x2="143.15" y2="515.3" stroke="#111" stroke-width="1.3" stroke-linecap="butt"/>
<text x="143.15" y="524.53" font-size="9.4" text-anchor="middle" font-weight="bold" fill="#000" stroke="#000" stroke-width="0.2">3</text>
<line x1="178.21" y1="512.3" x2="178.21" y2="515.3" stroke="#111" stroke-width="1.3" stroke-linecap="butt"/>
<text x="178.21" y="524.53" font-size="9.4" text-anchor="middle" font-weight="bold" fill="#000" stroke="#000" stroke-width="0.2">4</text>
<line x1="213.27" y1="512.3" x2="213.27" y2="515.3" stroke="#111" stroke-width="1.3" stroke-linecap="butt"/>
<text x="213.27" y="524.53" font-size="9.4" text-anchor="middle" font-weight="bold" fill="#000" stroke="#000" stroke-width="0.2">5</text>
<line x1="55.5" y1="512.3" x2="55.5" y2="514.1" stroke="#111" stroke-width="1.3" stroke-linecap="butt"/>
<line x1="90.56" y1="512.3" x2="90.56" y2="514.1" stroke="#111" stroke-width="1.3" stroke-linecap="butt"/>
<line x1="125.62" y1="512.3" x2="125.62" y2="514.1" stroke="#111" stroke-width="1.3" stroke-linecap="butt"/>
<line x1="160.68" y1="512.3" x2="160.68" y2="514.1" stroke="#111" stroke-width="1.3" stroke-linecap="butt"/>
<line x1="195.74" y1="512.3" x2="195.74" y2="514.1" stroke="#111" stroke-width="1.3" stroke-linecap="butt"/>
<line x1="230.8" y1="512.3" x2="230.8" y2="514.1" stroke="#111" stroke-width="1.3" stroke-linecap="butt"/>
<text x="142.8" y="540.7" font-size="12.4" text-anchor="middle" font-weight="bold" fill="#000" stroke="#000" stroke-width="0.25">Number of electrode</text>
<text transform="translate(27.6,455) rotate(-90)" font-size="12.4" text-anchor="middle" font-weight="bold" stroke="#000" stroke-width="0.25">Signal / %</text>
<text x="237.2" y="383.5" font-size="25.5" text-anchor="start" font-weight="bold" fill="#000" stroke="#000" stroke-width="0.3">F</text>
<rect x="306.51" y="410.01" width="22.2" height="102.29" fill="#ff0000" stroke="#111" stroke-width="1"/>
<line x1="317.61" y1="407.44" x2="317.61" y2="412.58" stroke="#111" stroke-width="1.1" stroke-linecap="butt"/>
<line x1="315.01" y1="407.44" x2="320.21" y2="407.44" stroke="#111" stroke-width="1.1" stroke-linecap="butt"/>
<line x1="315.01" y1="412.58" x2="320.21" y2="412.58" stroke="#111" stroke-width="1.1" stroke-linecap="butt"/>
<rect x="350.34" y="411.04" width="22.2" height="101.26" fill="#ff0000" stroke="#111" stroke-width="1"/>
<line x1="361.44" y1="407.44" x2="361.44" y2="414.64" stroke="#111" stroke-width="1.1" stroke-linecap="butt"/>
<line x1="358.84" y1="407.44" x2="364.04" y2="407.44" stroke="#111" stroke-width="1.1" stroke-linecap="butt"/>
<line x1="358.84" y1="414.64" x2="364.04" y2="414.64" stroke="#111" stroke-width="1.1" stroke-linecap="butt"/>
<rect x="394.16" y="407.96" width="22.2" height="104.34" fill="#ff0000" stroke="#111" stroke-width="1"/>
<line x1="405.26" y1="397.68" x2="405.26" y2="418.24" stroke="#111" stroke-width="1.1" stroke-linecap="butt"/>
<line x1="402.66" y1="397.68" x2="407.86" y2="397.68" stroke="#111" stroke-width="1.1" stroke-linecap="butt"/>
<line x1="402.66" y1="418.24" x2="407.86" y2="418.24" stroke="#111" stroke-width="1.1" stroke-linecap="butt"/>
<rect x="437.99" y="410.53" width="22.2" height="101.77" fill="#ff0000" stroke="#111" stroke-width="1"/>
<line x1="449.09" y1="405.39" x2="449.09" y2="415.67" stroke="#111" stroke-width="1.1" stroke-linecap="butt"/>
<line x1="446.49" y1="405.39" x2="451.69" y2="405.39" stroke="#111" stroke-width="1.1" stroke-linecap="butt"/>
<line x1="446.49" y1="415.67" x2="451.69" y2="415.67" stroke="#111" stroke-width="1.1" stroke-linecap="butt"/>
<rect x="295.7" y="383.8" width="175.3" height="128.5" fill="none" stroke="#000" stroke-width="1.3"/>
<line x1="292.7" y1="512.3" x2="295.7" y2="512.3" stroke="#111" stroke-width="1.3" stroke-linecap="butt"/>
<text x="290.5" y="515.23" font-size="9.4" text-anchor="end" font-weight="bold" fill="#000" stroke="#000" stroke-width="0.2">0</text>
<line x1="292.7" y1="460.9" x2="295.7" y2="460.9" stroke="#111" stroke-width="1.3" stroke-linecap="butt"/>
<text x="290.5" y="463.83" font-size="9.4" text-anchor="end" font-weight="bold" fill="#000" stroke="#000" stroke-width="0.2">1</text>
<line x1="292.7" y1="409.5" x2="295.7" y2="409.5" stroke="#111" stroke-width="1.3" stroke-linecap="butt"/>
<text x="290.5" y="412.43" font-size="9.4" text-anchor="end" font-weight="bold" fill="#000" stroke="#000" stroke-width="0.2">2</text>
<line x1="293.9" y1="486.6" x2="295.7" y2="486.6" stroke="#111" stroke-width="1.3" stroke-linecap="butt"/>
<line x1="293.9" y1="435.2" x2="295.7" y2="435.2" stroke="#111" stroke-width="1.3" stroke-linecap="butt"/>
<line x1="317.61" y1="512.3" x2="317.61" y2="515.3" stroke="#111" stroke-width="1.3" stroke-linecap="butt"/>
<text x="317.61" y="524.43" font-size="9.4" text-anchor="middle" font-weight="bold" fill="#000" stroke="#000" stroke-width="0.2">15</text>
<line x1="361.44" y1="512.3" x2="361.44" y2="515.3" stroke="#111" stroke-width="1.3" stroke-linecap="butt"/>
<text x="361.44" y="524.43" font-size="9.4" text-anchor="middle" font-weight="bold" fill="#000" stroke="#000" stroke-width="0.2">30</text>
<line x1="405.26" y1="512.3" x2="405.26" y2="515.3" stroke="#111" stroke-width="1.3" stroke-linecap="butt"/>
<text x="405.26" y="524.43" font-size="9.4" text-anchor="middle" font-weight="bold" fill="#000" stroke="#000" stroke-width="0.2">60</text>
<line x1="449.09" y1="512.3" x2="449.09" y2="515.3" stroke="#111" stroke-width="1.3" stroke-linecap="butt"/>
<text x="449.09" y="524.43" font-size="9.4" text-anchor="middle" font-weight="bold" fill="#000" stroke="#000" stroke-width="0.2">90</text>
<line x1="295.7" y1="512.3" x2="295.7" y2="514.1" stroke="#111" stroke-width="1.3" stroke-linecap="butt"/>
<line x1="339.52" y1="512.3" x2="339.52" y2="514.1" stroke="#111" stroke-width="1.3" stroke-linecap="butt"/>
<line x1="383.35" y1="512.3" x2="383.35" y2="514.1" stroke="#111" stroke-width="1.3" stroke-linecap="butt"/>
<line x1="427.18" y1="512.3" x2="427.18" y2="514.1" stroke="#111" stroke-width="1.3" stroke-linecap="butt"/>
<line x1="471" y1="512.3" x2="471" y2="514.1" stroke="#111" stroke-width="1.3" stroke-linecap="butt"/>
<text x="382.9" y="541.6" font-size="12.4" text-anchor="middle" font-weight="bold" fill="#000" stroke="#000" stroke-width="0.25">Bending degree / °</text>
<text transform="translate(279.5,456.3) rotate(-90)" font-size="12.4" text-anchor="middle" font-weight="bold" stroke="#000" stroke-width="0.25">Current / µA</text>
</svg>
</body></html>
